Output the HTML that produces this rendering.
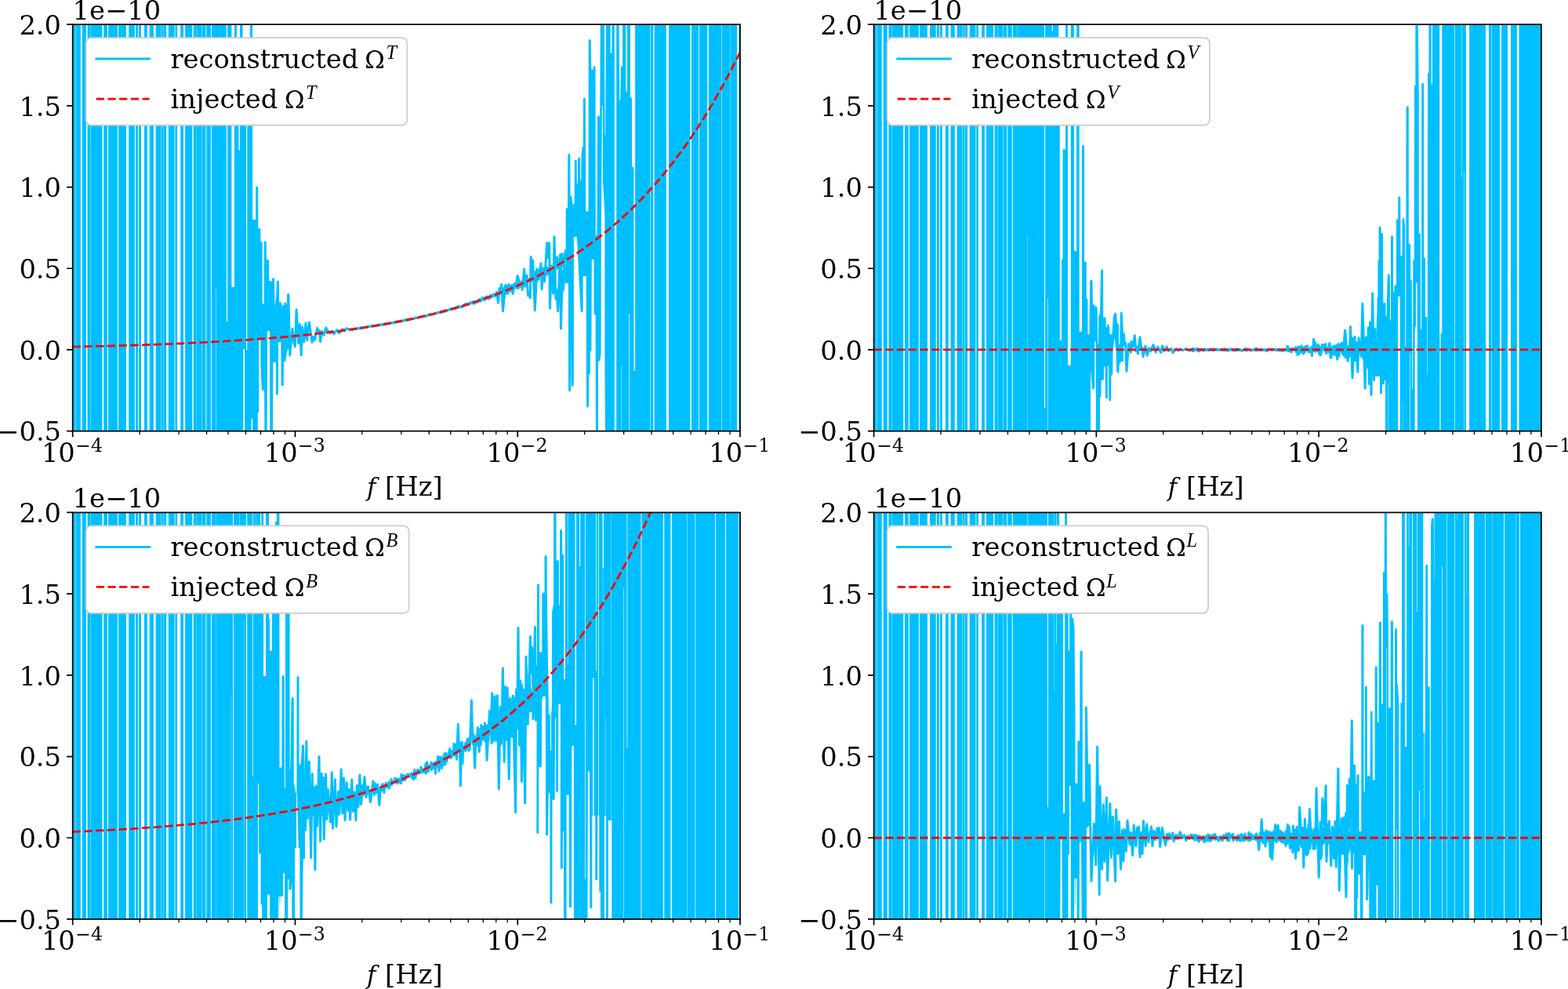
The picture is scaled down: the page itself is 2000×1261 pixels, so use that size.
<!DOCTYPE html>
<html lang="en"><head><meta charset="utf-8"><title>Reconstructed vs injected spectra</title>
<style>html,body{margin:0;padding:0;background:#fff}svg{display:block}.tk{font-family:'DejaVu Serif', 'Liberation Serif', serif;font-size:33.78px;fill:#000}.mi{font-family:'Liberation Serif', 'DejaVu Serif', serif;font-style:italic;fill:#000}.om{font-family:'DejaVu Serif', 'Liberation Serif', serif;font-size:30.8px;fill:#000}.di{font-family:'DejaVu Serif',serif;font-style:italic;fill:#000}</style></head><body>
<svg xmlns="http://www.w3.org/2000/svg" width="2000" height="1261" viewBox="0 0 2000 1261">
<rect width="2000" height="1261" fill="#fff"/>
<defs>
<clipPath id="clipT"><rect x="92.70" y="31.15" width="851.30" height="518.50"/></clipPath>
<clipPath id="clipV"><rect x="1114.60" y="31.15" width="851.30" height="518.50"/></clipPath>
<clipPath id="clipB"><rect x="92.70" y="653.45" width="851.30" height="518.50"/></clipPath>
<clipPath id="clipL"><rect x="1114.60" y="653.45" width="851.30" height="518.50"/></clipPath>
</defs>
<g id="axT">
<g clip-path="url(#clipT)">
<clipPath id="lowT"><path d="M87.70 -8.85L87.70 561.65L275.35 561.65L275.35 369.00L275.75 369.00L275.75 561.65L310.30 561.65L310.30 445.00L312.00 445.00L312.00 561.65L320.60 561.65L320.60 534.00L322.00 534.00L322.00 561.65L328.80 561.65L328.80 526.00L330.30 526.00L330.30 432.00L332.40 432.00L332.40 466.00L333.80 497.20L334.40 498.25L336.20 498.25L336.80 497.20L337.00 493.00L337.50 561.65L340.60 561.65L341.10 422.00L344.00 422.00L344.30 561.65L347.90 561.65L348.40 462.00L351.90 462.00L352.00 502.40L352.60 503.45L354.40 503.45L355.00 502.40L355.10 436.00L358.30 436.00L358.70 491.00L359.30 492.05L361.10 492.05L361.70 491.00L362.00 461.00L364.30 461.00L365.90 449.00L369.40 440.00L369.40 1.15L721.40 1.15L721.40 361.00L724.90 361.00L725.00 490.00L725.10 498.10L725.70 499.15L727.50 499.15L728.10 498.10L728.40 441.00L728.70 491.40L729.30 492.45L731.10 492.45L731.70 491.40L731.90 480.00L731.90 302.00L735.60 302.00L736.40 311.00L738.50 356.00L740.60 396.90L741.20 397.95L743.00 397.95L743.60 396.90L743.70 352.00L747.60 352.00L748.00 512.00L748.00 518.20L748.60 519.25L750.40 519.25L751.00 518.20L751.20 505.60L751.20 477.50L752.90 476.70L752.90 448.00L754.40 447.30L754.80 331.00L757.50 331.00L757.50 401.00L759.60 401.00L759.90 561.65L763.00 561.65L763.00 461.00L765.30 460.00L766.60 451.00L766.80 300.00L767.30 231.00L767.90 135.00L768.80 135.00L768.90 230.00L771.40 275.00L771.40 460.00L772.00 561.65L792.20 561.65L792.20 467.00L792.60 467.00L792.60 561.65L802.40 561.65L802.40 400.00L803.10 400.00L803.10 561.65L949.00 561.65L949.00 -8.85Z"/></clipPath>
<path d="M87.70 589.65L87.70 19.15L96.30 19.15L96.30 579.65L96.70 579.65L96.70 19.15L102.85 19.15L102.85 579.65L104.75 579.65L104.75 19.15L109.88 19.15L109.88 579.65L111.53 579.65L111.53 19.15L115.42 19.15L115.42 579.65L115.77 579.65L115.77 19.15L130.40 19.15L130.40 579.65L132.20 579.65L132.20 19.15L136.95 19.15L136.95 579.65L138.05 579.65L138.05 19.15L150.00 19.15L150.00 579.65L151.00 579.65L151.00 19.15L161.00 19.15L161.00 579.65L164.20 579.65L164.20 19.15L171.90 19.15L171.90 579.65L173.10 579.65L173.10 19.15L176.00 19.15L176.00 579.65L177.00 579.65L177.00 19.15L180.00 19.15L180.00 579.65L184.00 579.65L184.00 19.15L187.90 19.15L187.90 579.65L190.70 579.65L190.70 19.15L195.90 19.15L195.90 579.65L198.70 579.65L198.70 19.15L205.40 19.15L205.40 579.65L205.80 579.65L205.80 19.15L208.40 19.15L208.40 579.65L208.80 579.65L208.80 19.15L212.20 19.15L212.20 579.65L214.80 579.65L214.80 19.15L222.60 19.15L222.60 579.65L223.40 579.65L223.40 19.15L226.10 19.15L226.10 579.65L230.20 579.65L230.20 19.15L234.05 19.15L234.05 579.65L236.15 579.65L236.15 19.15L245.30 19.15L245.30 579.65L246.70 579.65L246.70 19.15L250.38 19.15L250.38 579.65L250.62 579.65L250.62 19.15L257.30 19.15L257.30 579.65L257.70 579.65L257.70 19.15L262.45 19.15L262.45 579.65L263.35 579.65L263.35 19.15L268.90 19.15L268.90 579.65L269.90 579.65L269.90 19.15L288.90 19.15L288.90 410.00L290.10 410.00L290.10 19.15L295.40 19.15L295.40 366.00L298.90 366.00L298.90 19.15L302.00 19.15L302.00 100.00L304.50 100.00L304.50 191.60L306.00 191.60L306.00 19.15L309.60 19.15L309.60 100.00L314.00 100.00L314.00 446.00L315.30 446.00L315.30 100.00L318.90 100.00L318.90 19.15L322.10 19.15L322.10 280.00L326.10 280.00L326.20 238.80L326.80 237.75L328.60 237.75L329.20 238.80L329.40 291.50L329.40 292.00L330.00 290.95L331.70 290.95L332.30 292.00L332.50 308.50L332.50 309.00L333.10 307.95L334.00 307.95L334.60 309.00L334.60 387.00L336.80 387.00L336.80 308.50L337.40 307.45L339.20 307.45L339.80 308.50L340.00 344.80L340.00 331.70L340.60 330.65L342.40 330.65L343.00 331.70L343.40 361.80L343.50 359.00L344.10 357.95L345.90 357.95L346.50 359.00L346.80 362.50L347.00 355.40L347.60 354.35L349.40 354.35L350.00 355.40L350.60 391.20L352.20 377.00L352.90 359.00L353.50 357.95L355.30 357.95L355.90 359.00L356.20 388.00L356.20 386.30L356.80 385.25L358.50 385.25L359.10 386.30L359.50 394.80L359.50 390.40L360.10 389.35L361.90 389.35L362.20 390.40L362.20 391.50L362.20 386.80L362.80 385.75L364.40 385.75L365.00 386.80L365.70 388.50L366.30 375.50L366.90 374.45L368.70 374.45L369.30 375.50L369.40 579.65L721.40 579.65L721.40 266.00L724.00 265.00L724.30 197.40L724.90 196.35L726.70 196.35L727.30 197.40L727.50 250.00L729.40 250.00L730.60 262.00L731.60 260.00L732.70 259.00L732.80 205.10L733.40 204.05L735.20 204.05L735.80 205.10L735.90 234.00L737.00 234.00L737.00 202.20L737.60 201.15L739.40 201.15L740.00 202.20L740.20 230.00L741.20 230.00L741.50 197.00L742.60 187.50L743.80 186.50L743.90 126.10L744.50 125.05L746.30 125.05L746.90 126.10L747.20 269.50L750.50 269.50L750.70 51.40L751.30 50.35L753.10 50.35L753.70 51.40L754.30 89.50L754.30 89.60L754.90 88.55L756.50 88.55L756.80 89.60L756.80 88.00L756.80 85.40L757.40 84.35L758.90 84.35L759.50 85.40L759.80 300.00L761.40 300.00L761.90 148.80L762.50 147.75L764.30 147.75L764.90 148.80L765.20 150.00L765.80 19.15L770.90 19.15L771.60 172.00L772.20 172.00L773.00 19.15L778.70 19.15L778.70 67.60L780.40 67.60L780.40 19.15L783.80 19.15L783.80 579.65L786.20 579.65L786.20 19.15L789.50 19.15L790.30 127.40L791.30 127.40L791.80 85.50L794.00 84.50L794.10 19.15L798.30 19.15L798.30 116.60L799.90 116.60L799.90 19.15L803.90 19.15L803.90 124.50L806.00 124.50L806.00 213.00L808.40 213.00L808.50 473.00L810.10 473.00L810.10 19.15L829.50 19.15L829.50 579.65L830.10 579.65L830.10 19.15L833.20 19.15L833.20 579.65L834.60 579.65L834.60 19.15L849.95 19.15L849.95 579.65L852.95 579.65L852.95 19.15L880.30 19.15L880.30 579.65L881.90 579.65L881.90 19.15L891.05 19.15L891.05 579.65L891.85 579.65L891.85 19.15L902.25 19.15L902.25 579.65L903.75 579.65L903.75 19.15L920.00 19.15L920.00 579.65L920.50 579.65L920.50 19.15L931.35 19.15L931.35 579.65L931.65 579.65L931.65 19.15L940.00 19.15L940.00 579.65L942.40 579.65L942.40 19.15L949.00 19.15L949.00 589.65Z" fill="#00bfff" clip-path="url(#lowT)"/>
<path d="M367.80 375.70 L369.70 453.00 L372.90 418.90 L375.00 438.50 L375.70 437.50 L376.40 441.90 L378.10 394.80 L380.80 437.80 L382.60 413.50 L384.20 453.00 L385.50 417.00 L387.60 435.90 L390.00 411.90 L391.60 433.70 L394.30 411.00 L398.20 436.50 L399.80 429.50 L401.40 433.50 L404.60 418.30 L406.30 423.00 L407.40 421.50 L408.70 435.50 L410.50 422.50 L413.10 427.30 L415.70 418.00 L418.50 422.50 L419.80 422.50 L421.40 424.80 L423.60 422.00 L425.80 425.70 L430.00 420.70 L432.50 424.80 L436.90 419.50 L439.50 422.00 L441.70 418.70 L445.50 420.00 L447.50 419.80 L449.60 420.90 L452.00 418.90 L452.81 419.34 L453.62 419.82 L454.42 419.64 L455.22 418.75 L456.01 418.73 L456.80 418.51 L457.58 418.88 L458.36 418.49 L459.13 418.73 L459.89 417.48 L460.66 418.85 L461.41 418.01 L462.17 418.24 L462.92 417.77 L463.66 417.55 L464.40 417.80 L465.13 417.84 L465.86 417.29 L466.59 417.20 L467.31 417.44 L468.03 416.67 L468.74 416.29 L469.45 416.98 L470.16 416.42 L470.86 415.79 L471.56 416.14 L472.25 416.18 L472.94 415.77 L473.63 415.53 L474.31 416.06 L474.99 416.30 L475.66 415.73 L476.33 415.41 L477.00 415.76 L477.66 415.79 L478.32 415.26 L478.98 415.50 L479.63 415.59 L480.28 414.98 L480.93 414.62 L481.57 414.98 L482.21 414.84 L482.84 415.07 L483.48 414.01 L484.11 414.15 L484.73 413.97 L485.36 413.51 L485.98 414.14 L486.59 414.20 L487.21 413.59 L487.82 414.32 L488.42 413.99 L489.03 413.81 L489.63 413.61 L490.23 413.72 L490.83 412.73 L491.42 413.38 L492.01 413.27 L492.60 412.25 L493.18 412.96 L493.76 412.63 L494.34 412.92 L494.92 412.35 L495.49 412.40 L496.06 412.44 L496.63 411.87 L497.20 412.33 L497.76 411.96 L498.32 412.08 L498.88 411.59 L499.43 412.10 L499.99 411.81 L500.54 411.42 L501.09 411.62 L501.63 411.75 L502.17 411.84 L502.72 410.49 L503.25 411.30 L503.79 411.04 L504.32 410.73 L504.86 410.30 L505.38 411.03 L505.91 410.00 L506.44 410.57 L506.96 410.74 L507.48 409.58 L508.00 409.95 L508.51 409.49 L509.03 409.95 L509.54 410.31 L510.05 410.39 L510.56 408.92 L511.06 409.26 L511.56 409.62 L512.07 409.83 L512.57 409.32 L513.07 408.80 L513.57 409.07 L514.07 408.86 L514.57 408.69 L515.07 408.40 L515.57 408.70 L516.07 408.57 L516.57 408.33 L517.07 408.18 L517.57 407.70 L518.07 407.88 L518.57 408.37 L519.07 407.78 L519.57 407.24 L520.07 408.11 L520.57 407.72 L521.07 408.17 L521.57 407.35 L522.07 407.07 L522.57 406.62 L523.07 407.47 L523.57 407.79 L524.07 406.52 L524.57 406.48 L525.07 406.80 L525.57 406.20 L526.07 406.29 L526.57 406.15 L527.07 406.23 L527.57 406.43 L528.07 405.96 L528.57 406.15 L529.07 405.59 L529.57 405.73 L530.07 404.79 L530.57 404.92 L531.07 405.56 L531.57 404.99 L532.07 405.27 L532.57 405.14 L533.07 405.29 L533.57 405.01 L534.07 404.96 L534.57 404.48 L535.07 404.17 L535.57 404.05 L536.07 404.02 L536.57 403.70 L537.07 403.77 L537.57 403.81 L538.07 403.81 L538.57 403.50 L539.07 402.87 L539.57 403.36 L540.07 403.34 L540.57 403.50 L541.07 403.22 L541.57 402.71 L542.07 402.57 L542.57 403.33 L543.07 402.81 L543.57 403.03 L544.07 403.01 L544.57 401.95 L545.07 402.22 L545.57 402.12 L546.07 402.03 L546.57 401.91 L547.07 401.68 L547.57 401.55 L548.07 400.91 L548.57 401.20 L549.07 400.90 L549.57 401.05 L550.07 400.75 L550.57 400.96 L551.07 400.90 L551.57 400.62 L552.07 400.50 L552.57 400.31 L553.07 400.02 L553.57 399.98 L554.07 399.75 L554.57 399.90 L555.07 399.66 L555.57 399.71 L556.07 399.00 L556.57 399.55 L557.07 398.92 L557.57 398.80 L558.07 398.84 L558.57 398.60 L559.07 398.73 L559.57 398.34 L560.50 398.27 L561.00 398.57 L561.50 398.32 L562.00 398.19 L562.50 398.43 L563.00 397.12 L563.50 397.23 L564.00 396.80 L564.50 397.19 L565.00 397.54 L565.50 396.96 L566.00 397.06 L566.50 395.85 L567.00 396.64 L567.50 396.02 L568.00 397.12 L568.50 396.58 L569.00 396.48 L569.50 395.87 L570.00 396.05 L570.50 395.94 L571.00 395.32 L571.50 395.11 L572.00 395.16 L572.50 394.78 L573.00 394.64 L573.50 394.66 L574.00 394.29 L574.50 394.92 L575.00 393.56 L575.50 394.68 L576.00 393.78 L576.50 393.67 L577.00 393.10 L577.50 393.61 L578.00 393.41 L578.50 393.51 L579.00 392.96 L579.50 393.17 L580.00 394.00 L580.50 393.06 L581.00 392.35 L581.50 393.09 L582.00 392.32 L582.50 392.60 L583.00 392.47 L583.50 391.72 L584.00 390.64 L584.50 391.45 L585.00 391.86 L585.50 391.14 L586.00 391.50 L586.50 391.70 L587.00 390.58 L587.50 391.57 L588.00 391.68 L588.50 391.19 L589.00 391.10 L589.50 390.91 L590.00 391.54 L590.50 390.00 L591.00 389.73 L591.50 389.99 L592.00 388.79 L592.50 388.17 L593.00 388.49 L593.50 389.22 L594.00 389.14 L594.50 387.53 L595.00 387.11 L595.50 388.10 L596.00 388.04 L596.50 387.99 L597.00 388.38 L597.50 388.65 L598.00 387.73 L598.50 387.87 L599.00 386.38 L599.50 386.14 L600.50 385.61 L601.00 385.84 L601.50 386.76 L602.00 385.84 L602.50 386.55 L603.00 386.63 L603.50 384.57 L604.00 386.49 L604.50 384.95 L605.00 387.11 L605.50 385.77 L606.00 384.50 L606.50 384.98 L607.00 384.83 L607.50 384.77 L608.00 385.57 L608.50 384.63 L609.00 385.50 L609.50 384.39 L610.00 383.47 L610.50 382.04 L611.00 381.82 L611.50 383.32 L612.00 383.62 L612.50 384.18 L613.00 382.02 L613.50 382.52 L614.00 381.47 L614.50 381.68 L615.00 379.64 L615.50 382.50 L616.00 380.84 L616.50 381.33 L617.00 381.69 L617.50 381.41 L618.00 379.50 L618.50 382.31 L619.00 381.34 L619.50 380.89 L620.00 379.46 L620.50 378.24 L621.00 378.02 L621.50 379.41 L622.00 379.64 L622.50 378.49 L623.00 381.17 L623.50 379.26 L624.00 379.88 L624.50 379.60 L625.00 377.12 L625.50 379.36 L626.00 378.54 L626.50 376.30 L627.00 378.51 L627.50 378.75 L628.00 378.46 L628.50 378.38 L629.00 375.14 L629.50 376.39 L630.00 375.83 L630.50 376.40 L631.00 376.28 L631.50 377.40 L633.50 372.50 L635.40 386.10 L637.20 367.50 L638.30 372.50 L639.60 362.70 L641.50 396.70 L644.60 363.70 L646.70 368.00 L648.80 362.60 L650.30 371.00 L652.40 363.70 L654.20 374.60 L656.50 361.60 L658.20 364.50 L660.10 351.80 L663.00 361.50 L664.60 359.50 L666.30 369.40 L668.70 343.00 L669.90 365.30 L672.00 351.30 L673.50 377.20 L675.00 372.50 L676.30 379.70 L677.10 327.60 L678.30 350.50 L679.60 332.00 L682.30 395.70 L684.80 343.00 L687.00 356.50 L690.00 335.80 L691.00 368.90 L693.10 342.00 L694.60 359.10 L697.70 309.50 L699.30 328.50 L700.60 310.10 L701.50 393.10 L703.10 338.90 L705.60 374.10 L707.00 301.80 L708.90 381.30 L710.00 369.50 L711.60 396.70 L714.40 325.00 L715.50 419.00 L717.30 345.10 L718.40 369.90 L720.20 344.10 L722.50 359.60 L724.00 301.50" stroke="#00bfff" stroke-width="3.0" stroke-linejoin="round" stroke-linecap="round" fill="none"/>
<path d="M641.50 373.11 L642.00 370.36 L642.50 369.23 L643.00 366.90 L643.50 370.70 L644.00 373.04 L644.50 370.90 L645.00 371.48 L645.50 372.12 L646.00 368.78 L646.50 374.45 L647.00 368.35 L647.50 370.26 L648.00 374.11 L648.50 369.01 L649.00 369.20 L649.50 367.89 L650.00 369.18 L650.50 364.55 L651.00 366.99 L651.50 371.06 L652.00 368.13 L652.50 367.08 L653.00 368.02 L653.50 367.89 L654.00 367.18 L654.50 367.80 L655.00 363.21 L655.50 367.42 L656.00 364.69 L656.50 367.40 L657.00 365.55 L657.50 363.33 L658.00 365.01 L658.50 362.84 L659.00 366.86 L659.50 364.44 L660.00 366.12 L660.50 361.64 L661.00 367.39 L661.50 362.95 L662.00 366.45 L662.50 365.10 L663.00 360.44 L663.50 363.47 L664.00 361.24 L664.50 363.23 L665.00 365.44 L665.50 363.46 L666.00 364.17 L666.50 358.51 L667.00 361.63 L667.50 361.79 L668.00 363.40 L668.50 358.87 L669.00 361.66 L669.50 361.08 L670.00 355.77 L670.50 356.78 L671.00 360.46 L671.50 355.89 L672.00 355.49 L672.50 361.01 L673.00 359.12 L673.50 357.44 L674.00 358.15 L674.50 356.47 L675.00 355.84 L675.50 355.81 L676.00 358.03 L676.50 360.55 L677.00 355.02 L677.50 355.97 L678.00 355.27 L678.50 351.83 L679.00 356.22 L679.50 357.90 L680.00 352.30 L680.50 357.35 L681.00 352.62 L681.50 357.94 L682.00 357.94 L682.50 352.45 L683.00 346.79 L683.50 352.04 L684.00 348.23 L684.50 348.20 L685.00 351.58 L685.50 356.96 L686.00 351.62 L686.50 350.91 L687.00 344.78 L687.50 348.98 L688.00 345.81 L688.50 352.60 L689.00 348.44 L689.50 349.99 L690.00 349.83 L690.50 348.91 L691.00 353.07 L691.50 351.02 L692.00 347.58 L692.50 349.20 L693.00 350.55 L693.50 353.64 L694.00 348.33 L694.50 353.53 L695.00 344.77 L695.50 346.00 L696.00 340.38 L696.50 350.00 L697.00 341.69 L697.50 341.38 L698.00 349.38 L698.50 342.99 L699.00 341.70 L699.50 349.18 L700.00 343.71 L700.50 348.56 L701.00 342.11 L701.50 347.17 L702.00 348.61 L702.50 343.57 L703.00 351.67 L703.50 340.67 L704.00 341.28 L704.50 342.45 L705.00 346.87 L705.50 340.02 L706.00 338.96 L706.50 342.25 L707.00 347.22 L707.50 338.14 L708.00 333.22 L708.50 339.07 L709.00 342.91 L709.50 336.21 L710.00 339.61 L710.50 328.12 L711.00 338.46 L711.50 338.64 L712.00 341.36 L712.50 339.27 L713.00 341.72 L713.50 330.95 L714.00 340.55 L714.50 326.26 L715.00 332.33 L715.50 342.53 L716.00 340.70 L716.50 323.40 L717.00 338.53 L717.50 331.72 L718.00 329.14 L718.50 335.22 L719.00 334.43 L719.50 342.58 L720.00 323.25 L720.50 329.75 L721.00 331.38 L721.50 319.29" stroke="#00bfff" stroke-width="3.0" stroke-linejoin="round" stroke-linecap="round" fill="none"/>
<path d="M92.70 442.15 L96.98 442.07 L101.26 441.97 L105.53 441.88 L109.81 441.79 L114.09 441.69 L118.37 441.59 L122.65 441.49 L126.92 441.38 L131.20 441.28 L135.48 441.17 L139.76 441.05 L144.03 440.94 L148.31 440.82 L152.59 440.70 L156.87 440.58 L161.15 440.45 L165.42 440.33 L169.70 440.19 L173.98 440.06 L178.26 439.92 L182.54 439.78 L186.81 439.64 L191.09 439.49 L195.37 439.34 L199.65 439.18 L203.93 439.02 L208.20 438.86 L212.48 438.69 L216.76 438.52 L221.04 438.35 L225.31 438.17 L229.59 437.99 L233.87 437.80 L238.15 437.61 L242.43 437.42 L246.70 437.22 L250.98 437.01 L255.26 436.81 L259.54 436.59 L263.82 436.37 L268.09 436.15 L272.37 435.92 L276.65 435.68 L280.93 435.44 L285.21 435.20 L289.48 434.95 L293.76 434.69 L298.04 434.42 L302.32 434.15 L306.59 433.88 L310.87 433.60 L315.15 433.31 L319.43 433.01 L323.71 432.71 L327.98 432.40 L332.26 432.08 L336.54 431.76 L340.82 431.42 L345.10 431.08 L349.37 430.73 L353.65 430.38 L357.93 430.01 L362.21 429.64 L366.48 429.26 L370.76 428.87 L375.04 428.47 L379.32 428.06 L383.60 427.64 L387.87 427.21 L392.15 426.77 L396.43 426.32 L400.71 425.86 L404.99 425.39 L409.26 424.91 L413.54 424.42 L417.82 423.92 L422.10 423.40 L426.38 422.87 L430.65 422.33 L434.93 421.78 L439.21 421.21 L443.49 420.63 L447.76 420.04 L452.04 419.44 L456.32 418.81 L460.60 418.18 L464.88 417.53 L469.15 416.86 L473.43 416.18 L477.71 415.49 L481.99 414.77 L486.27 414.04 L490.54 413.30 L494.82 412.53 L499.10 411.75 L503.38 410.95 L507.66 410.13 L511.93 409.29 L516.21 408.43 L520.49 407.55 L524.77 406.66 L529.04 405.74 L533.32 404.79 L537.60 403.83 L541.88 402.84 L546.16 401.83 L550.43 400.80 L554.71 399.75 L558.99 398.66 L563.27 397.56 L567.55 396.42 L571.82 395.26 L576.10 394.08 L580.38 392.86 L584.66 391.62 L588.94 390.35 L593.21 389.05 L597.49 387.71 L601.77 386.35 L606.05 384.96 L610.32 383.53 L614.60 382.07 L618.88 380.57 L623.16 379.04 L627.44 377.47 L631.71 375.87 L635.99 374.23 L640.27 372.55 L644.55 370.83 L648.83 369.07 L653.10 367.27 L657.38 365.43 L661.66 363.55 L665.94 361.62 L670.22 359.64 L674.49 357.62 L678.77 355.56 L683.05 353.44 L687.33 351.27 L691.60 349.06 L695.88 346.79 L700.16 344.47 L704.44 342.09 L708.72 339.66 L712.99 337.17 L717.27 334.62 L721.55 332.02 L725.83 329.35 L730.11 326.62 L734.38 323.83 L738.66 320.97 L742.94 318.04 L747.22 315.05 L751.49 311.98 L755.77 308.85 L760.05 305.64 L764.33 302.35 L768.61 298.99 L772.88 295.55 L777.16 292.03 L781.44 288.42 L785.72 284.74 L790.00 280.96 L794.27 277.10 L798.55 273.15 L802.83 269.10 L807.11 264.96 L811.39 260.72 L815.66 256.39 L819.94 251.95 L824.22 247.41 L828.50 242.76 L832.77 238.00 L837.05 233.13 L841.33 228.15 L845.61 223.05 L849.89 217.83 L854.16 212.49 L858.44 207.03 L862.72 201.44 L867.00 195.71 L871.28 189.85 L875.55 183.86 L879.83 177.72 L884.11 171.44 L888.39 165.01 L892.67 158.44 L896.94 151.71 L901.22 144.82 L905.50 137.77 L909.78 130.55 L914.05 123.17 L918.33 115.61 L922.61 107.88 L926.89 99.96 L931.17 91.86 L935.44 83.57 L939.72 75.09 L944.00 66.41" stroke="#ff0000" stroke-width="2.78" stroke-dasharray="10.28 4.44" fill="none"/>
</g>
<path d="M85.10 31.15H92.70M85.10 134.85H92.70M85.10 238.55H92.70M85.10 342.25H92.70M85.10 445.95H92.70M85.10 549.65H92.70M92.70 549.65V557.25M376.47 549.65V557.25M660.23 549.65V557.25M944.00 549.65V557.25" stroke="#000" stroke-width="1.7" fill="none"/>
<path d="M178.12 549.65V553.95M228.09 549.65V553.95M263.54 549.65V553.95M291.04 549.65V553.95M313.51 549.65V553.95M332.51 549.65V553.95M348.97 549.65V553.95M363.48 549.65V553.95M461.89 549.65V553.95M511.86 549.65V553.95M547.31 549.65V553.95M574.81 549.65V553.95M597.28 549.65V553.95M616.28 549.65V553.95M632.73 549.65V553.95M647.25 549.65V553.95M745.66 549.65V553.95M795.62 549.65V553.95M831.08 549.65V553.95M858.58 549.65V553.95M881.05 549.65V553.95M900.04 549.65V553.95M916.50 549.65V553.95M931.02 549.65V553.95" stroke="#000" stroke-width="1.3" fill="none"/>
<rect x="92.70" y="31.15" width="851.30" height="518.50" fill="none" stroke="#000" stroke-width="1.7"/>
<text x="78.10" y="43.95" text-anchor="end" class="tk">2.0</text>
<text x="78.10" y="147.65" text-anchor="end" class="tk">1.5</text>
<text x="78.10" y="251.35" text-anchor="end" class="tk">1.0</text>
<text x="78.10" y="355.05" text-anchor="end" class="tk">0.5</text>
<text x="78.10" y="458.75" text-anchor="end" class="tk">0.0</text>
<text x="78.10" y="562.45" text-anchor="end" class="tk">−0.5</text>
<text x="52.90" y="588.95" class="tk">10<tspan dy="-12.6" dx="0.4" font-size="23.65">−4</tspan></text>
<text x="336.67" y="588.95" class="tk">10<tspan dy="-12.6" dx="0.4" font-size="23.65">−3</tspan></text>
<text x="620.43" y="588.95" class="tk">10<tspan dy="-12.6" dx="0.4" font-size="23.65">−2</tspan></text>
<text x="904.20" y="588.95" class="tk">10<tspan dy="-12.6" dx="0.4" font-size="23.65">−1</tspan></text>
<text x="92.50" y="24.75" class="tk">1e−10</text>
<text x="467.90" y="631.85" class="di" font-size="31">f</text>
<text x="491.10" y="631.85" class="tk">[Hz]</text>
<rect x="109.60" y="48.15" width="409.70" height="111.40" rx="6.8" ry="6.8" fill="#fff" stroke="#ccc" stroke-width="1.7"/>
<path d="M122.90 75.10h67.5" stroke="#00bfff" stroke-width="3.0" stroke-linecap="square" fill="none"/>
<path d="M122.70 126.10h67.8" stroke="#ff0000" stroke-width="2.78" stroke-dasharray="10.28 4.44" fill="none"/>
<text x="217.40" y="86.60" class="tk">reconstructed</text>
<text x="465.30" y="86.60" class="om">Ω</text>
<text x="492.40" y="75.10" class="mi" font-size="24.3">T</text>
<text x="217.40" y="137.70" class="tk">injected</text>
<text x="363.00" y="137.70" class="om">Ω</text>
<text x="390.10" y="126.20" class="mi" font-size="24.3">T</text>
</g>
<g id="axV">
<g clip-path="url(#clipV)">
<clipPath id="lowV"><path d="M1109.60 -8.85L1109.60 561.65L1310.50 561.65L1310.50 300.00L1310.80 300.00L1310.80 561.65L1336.30 561.65L1336.30 380.00L1336.80 380.00L1336.80 561.65L1391.10 561.65L1391.10 470.70L1393.00 494.00L1393.00 495.10L1393.60 496.15L1395.30 496.15L1395.90 495.10L1396.20 494.00L1396.30 435.60L1397.80 435.60L1397.90 561.65L1403.00 561.65L1403.00 506.80L1404.50 505.70L1404.60 489.00L1404.90 483.80L1405.50 484.85L1407.30 484.85L1407.90 483.80L1408.20 467.60L1409.70 467.60L1409.90 507.00L1410.50 508.05L1412.30 508.05L1412.90 507.00L1412.90 466.50L1413.90 466.50L1414.20 510.10L1414.80 511.15L1416.60 511.15L1417.20 510.10L1417.40 479.00L1419.30 477.00L1419.50 449.00L1421.30 432.00L1421.80 432.00L1423.60 449.00L1424.10 472.00L1424.50 474.50L1425.10 475.55L1426.90 475.55L1427.50 474.50L1427.80 464.00L1430.00 461.50L1430.40 460.10L1431.00 461.15L1432.80 461.15L1433.00 460.10L1433.00 450.00L1433.00 1.15L1756.30 1.15L1756.30 480.00L1759.80 480.00L1760.10 501.20L1760.70 502.25L1762.50 502.25L1763.10 501.20L1763.20 488.00L1763.20 489.30L1763.80 490.35L1765.30 490.35L1765.90 489.30L1766.00 485.00L1767.00 485.00L1767.00 561.65L1770.20 561.65L1770.20 489.00L1770.60 489.00L1770.60 561.65L1783.10 561.65L1783.10 378.00L1785.70 378.00L1785.70 561.65L1789.40 561.65L1789.40 513.00L1789.60 513.00L1789.60 561.65L1798.20 561.65L1798.20 450.00L1798.80 450.00L1798.80 561.65L1804.70 561.65L1804.70 420.00L1806.00 415.00L1806.00 361.00L1807.70 361.00L1807.90 561.65L1836.40 561.65L1836.40 420.00L1837.60 420.00L1837.60 561.65L1867.30 561.65L1867.30 218.80L1867.80 218.80L1867.80 561.65L1970.90 561.65L1970.90 -8.85Z"/></clipPath>
<path d="M1109.60 589.65L1109.60 19.15L1118.20 19.15L1118.20 579.65L1118.60 579.65L1118.60 19.15L1124.75 19.15L1124.75 579.65L1126.65 579.65L1126.65 19.15L1131.77 19.15L1131.77 579.65L1133.42 579.65L1133.42 19.15L1137.33 19.15L1137.33 579.65L1137.67 579.65L1137.67 19.15L1152.30 19.15L1152.30 579.65L1154.10 579.65L1154.10 19.15L1158.85 19.15L1158.85 579.65L1159.95 579.65L1159.95 19.15L1171.90 19.15L1171.90 579.65L1172.90 579.65L1172.90 19.15L1182.90 19.15L1182.90 579.65L1186.10 579.65L1186.10 19.15L1193.80 19.15L1193.80 579.65L1195.00 579.65L1195.00 19.15L1197.90 19.15L1197.90 579.65L1198.90 579.65L1198.90 19.15L1201.90 19.15L1201.90 579.65L1205.90 579.65L1205.90 19.15L1209.80 19.15L1209.80 579.65L1212.60 579.65L1212.60 19.15L1217.80 19.15L1217.80 579.65L1220.60 579.65L1220.60 19.15L1227.30 19.15L1227.30 579.65L1227.70 579.65L1227.70 19.15L1230.30 19.15L1230.30 579.65L1230.70 579.65L1230.70 19.15L1234.10 19.15L1234.10 579.65L1236.70 579.65L1236.70 19.15L1244.50 19.15L1244.50 579.65L1245.30 579.65L1245.30 19.15L1248.00 19.15L1248.00 579.65L1252.10 579.65L1252.10 19.15L1255.95 19.15L1255.95 579.65L1258.05 579.65L1258.05 19.15L1267.20 19.15L1267.20 579.65L1268.60 579.65L1268.60 19.15L1272.28 19.15L1272.28 579.65L1272.53 579.65L1272.53 19.15L1279.20 19.15L1279.20 579.65L1279.60 579.65L1279.60 19.15L1284.35 19.15L1284.35 579.65L1285.25 579.65L1285.25 19.15L1290.80 19.15L1290.80 579.65L1291.80 579.65L1291.80 19.15L1297.30 19.15L1297.30 100.00L1297.60 100.00L1297.60 19.15L1332.10 19.15L1332.10 520.00L1333.10 520.00L1333.10 19.15L1341.90 19.15L1341.90 39.80L1343.00 39.80L1343.00 19.15L1350.30 19.15L1350.30 120.00L1351.80 120.00L1351.80 434.00L1353.90 434.00L1354.00 330.40L1355.60 330.40L1355.60 194.00L1355.60 191.30L1356.20 190.25L1358.00 190.25L1358.60 191.30L1359.00 191.00L1359.10 19.15L1362.10 19.15L1362.10 466.00L1365.80 466.00L1365.80 19.15L1370.00 19.15L1370.00 320.00L1373.10 320.00L1373.10 19.15L1376.70 19.15L1376.70 422.70L1380.00 422.70L1380.00 19.15L1380.20 19.15L1380.20 187.00L1380.20 186.20L1380.80 185.15L1382.50 185.15L1383.10 186.20L1383.10 333.50L1385.80 334.00L1385.80 381.00L1387.50 381.50L1387.50 426.30L1389.40 426.30L1390.20 360.00L1390.50 357.90L1391.10 356.85L1392.90 356.85L1393.50 357.90L1394.00 389.50L1394.00 389.40L1394.60 388.35L1396.20 388.35L1396.70 389.40L1396.70 391.50L1396.70 392.00L1397.30 390.95L1399.00 390.95L1399.60 392.00L1399.90 398.00L1400.10 438.00L1400.80 438.00L1401.20 404.50L1403.00 398.50L1404.10 344.50L1404.70 343.45L1406.50 343.45L1407.10 344.50L1407.30 405.00L1407.40 405.40L1408.00 404.35L1409.80 404.35L1410.40 405.40L1410.60 407.00L1410.70 417.00L1412.00 417.00L1412.00 414.70L1412.60 413.65L1414.20 413.65L1414.80 414.70L1415.20 417.00L1415.40 426.30L1418.50 426.30L1419.80 404.00L1421.10 399.70L1421.70 398.65L1423.50 398.65L1424.10 399.70L1424.90 410.80L1427.10 415.00L1427.20 438.70L1428.30 438.70L1428.80 400.00L1428.80 398.90L1429.40 397.85L1431.20 397.85L1431.80 398.90L1432.00 404.00L1433.00 424.00L1433.00 579.65L1756.30 579.65L1756.30 381.00L1757.30 380.00L1757.50 332.30L1758.60 332.00L1758.60 292.00L1758.60 289.70L1759.20 288.65L1760.90 288.65L1761.50 289.70L1761.80 297.20L1764.00 297.50L1764.40 386.50L1764.50 386.70L1765.10 385.65L1766.90 385.65L1767.50 386.70L1767.60 403.40L1768.80 403.40L1768.90 382.80L1769.80 352.00L1769.80 350.60L1770.40 349.55L1772.00 349.55L1772.60 350.60L1773.00 353.00L1773.00 408.60L1774.00 408.60L1774.00 303.00L1774.00 301.60L1774.60 300.55L1776.40 300.55L1777.00 301.60L1777.10 303.00L1777.10 372.50L1778.30 372.50L1778.40 366.00L1778.40 364.50L1779.00 363.45L1780.50 363.45L1780.90 364.50L1780.90 364.00L1780.90 281.00L1781.30 279.60L1783.20 279.60L1783.30 252.00L1783.30 251.50L1783.90 250.45L1785.60 250.45L1786.20 251.50L1786.30 253.00L1786.50 326.10L1788.50 326.10L1788.60 280.00L1788.60 279.30L1789.20 278.25L1790.80 278.25L1791.40 279.30L1791.40 281.00L1792.30 290.00L1792.40 442.00L1793.20 442.00L1793.60 137.00L1793.70 136.50L1794.30 135.45L1796.10 135.45L1796.70 136.50L1796.80 138.00L1796.80 310.60L1799.10 311.00L1799.20 357.00L1800.70 357.50L1801.30 496.00L1802.00 496.00L1802.30 331.20L1803.80 331.00L1804.00 109.00L1805.40 108.90L1805.40 19.15L1808.80 19.15L1809.10 60.00L1809.80 120.00L1809.80 297.70L1811.90 298.00L1812.20 420.00L1813.10 420.00L1813.20 107.50L1813.20 107.10L1813.80 106.05L1815.50 106.05L1816.10 107.10L1816.20 107.50L1816.30 328.70L1818.00 329.00L1818.00 403.90L1820.30 404.00L1820.40 477.70L1820.80 477.70L1821.00 93.00L1822.50 92.90L1822.50 19.15L1825.70 19.15L1825.70 107.80L1826.90 107.80L1826.90 19.15L1836.20 19.15L1836.20 425.00L1839.30 425.00L1839.30 19.15L1855.20 19.15L1855.20 579.65L1855.80 579.65L1855.80 19.15L1864.50 19.15L1864.50 227.50L1864.90 227.50L1864.90 19.15L1870.00 19.15L1870.00 579.65L1874.10 579.65L1874.10 19.15L1895.10 19.15L1895.10 579.65L1899.00 579.65L1899.00 19.15L1902.10 19.15L1902.10 579.65L1902.60 579.65L1902.60 19.15L1913.00 19.15L1913.00 579.65L1915.10 579.65L1915.10 19.15L1923.00 19.15L1923.00 579.65L1927.00 579.65L1927.00 19.15L1934.90 19.15L1934.90 579.65L1937.50 579.65L1937.50 19.15L1970.90 19.15L1970.90 589.65Z" fill="#00bfff" clip-path="url(#lowV)"/>
<path d="M1431.00 431.50 L1433.40 425.80 L1434.60 440.50 L1435.60 437.50 L1437.00 473.30 L1439.50 438.50 L1442.20 449.10 L1442.90 435.60 L1445.00 442.50 L1447.30 427.80 L1449.00 447.50 L1450.20 442.50 L1451.40 451.10 L1454.00 429.90 L1456.00 446.00 L1457.00 443.50 L1458.10 454.70 L1461.00 441.20 L1463.30 453.20 L1465.40 443.80 L1467.40 448.00 L1471.00 439.70 L1474.10 449.10 L1476.70 442.30 L1480.80 449.60 L1482.50 441.00 L1485.00 447.80 L1488.20 442.10 L1490.10 447.50 L1494.20 444.50 L1495.80 449.60 L1500.40 444.70 L1503.00 447.10 L1505.60 444.70 L1508.70 446.70 L1512.80 444.50 L1517.10 447.30 L1520.00 445.10 L1520.56 446.31 L1521.12 447.44 L1521.67 444.20 L1522.22 447.59 L1522.77 445.90 L1523.32 445.18 L1523.86 445.19 L1524.40 444.93 L1524.94 445.74 L1525.48 446.73 L1526.01 446.49 L1526.55 446.54 L1527.08 444.40 L1527.60 444.52 L1528.13 447.35 L1528.65 446.82 L1529.17 447.89 L1529.69 447.02 L1530.21 445.05 L1530.72 447.07 L1531.24 446.49 L1531.75 446.13 L1532.26 445.25 L1532.76 445.95 L1533.27 445.83 L1533.77 446.70 L1534.27 446.05 L1534.77 447.26 L1535.27 445.31 L1535.77 446.34 L1536.27 446.36 L1536.77 445.25 L1537.27 445.00 L1537.77 446.76 L1538.27 446.36 L1538.77 445.82 L1539.27 446.26 L1539.77 445.43 L1540.27 446.13 L1540.77 445.49 L1541.27 446.09 L1541.77 446.70 L1542.27 445.69 L1542.77 446.59 L1543.27 445.18 L1543.77 445.74 L1544.27 444.95 L1544.77 445.88 L1545.27 446.01 L1545.77 445.81 L1546.27 445.76 L1546.77 446.90 L1547.27 446.96 L1547.77 445.10 L1548.27 446.77 L1548.77 444.76 L1549.27 445.44 L1549.77 445.83 L1550.27 446.03 L1550.77 445.24 L1551.27 445.47 L1551.77 446.00 L1552.27 445.49 L1552.77 445.53 L1553.27 446.39 L1553.77 446.56 L1554.27 445.91 L1554.77 445.96 L1555.27 445.94 L1555.77 445.66 L1556.27 445.63 L1556.77 445.30 L1557.27 446.35 L1557.77 445.90 L1558.27 445.87 L1558.77 446.07 L1559.27 446.27 L1559.77 446.81 L1560.50 445.11 L1561.00 445.23 L1561.50 445.17 L1562.00 445.57 L1562.50 446.82 L1563.00 444.98 L1563.50 446.52 L1564.00 446.71 L1564.50 445.73 L1565.00 445.53 L1565.50 446.24 L1566.00 446.69 L1566.50 447.26 L1567.00 446.49 L1567.50 446.92 L1568.00 445.68 L1568.50 445.42 L1569.00 444.90 L1569.50 445.24 L1570.00 445.73 L1570.50 446.07 L1571.00 445.15 L1571.50 446.45 L1572.00 445.89 L1572.50 445.56 L1573.00 445.48 L1573.50 447.19 L1574.00 446.05 L1574.50 445.40 L1575.00 445.36 L1575.50 447.09 L1576.00 445.59 L1576.50 446.69 L1577.00 446.83 L1577.50 444.51 L1578.00 446.79 L1578.50 445.82 L1579.00 445.28 L1579.50 445.61 L1580.00 446.30 L1580.50 446.18 L1581.00 446.22 L1581.50 445.50 L1582.00 446.75 L1582.50 446.89 L1583.00 447.10 L1583.50 446.58 L1584.00 447.14 L1584.50 447.27 L1585.00 446.39 L1585.50 446.51 L1586.00 446.32 L1586.50 446.30 L1587.00 446.50 L1587.50 444.87 L1588.00 445.74 L1588.50 446.26 L1589.00 444.61 L1589.50 445.03 L1590.00 446.96 L1590.50 445.28 L1591.00 445.65 L1591.50 446.19 L1592.00 445.65 L1592.50 445.40 L1593.00 445.62 L1593.50 445.68 L1594.00 445.58 L1594.50 446.07 L1595.00 446.98 L1595.50 446.18 L1596.00 446.99 L1596.50 446.43 L1597.00 446.49 L1597.50 446.33 L1598.00 445.76 L1598.50 446.22 L1599.00 446.15 L1599.50 445.23 L1600.00 446.43 L1600.50 446.32 L1601.00 446.19 L1601.50 445.59 L1602.00 444.24 L1602.50 446.91 L1603.00 445.90 L1603.50 444.53 L1604.00 446.37 L1604.50 445.49 L1605.00 446.40 L1605.50 445.88 L1606.00 446.69 L1606.50 446.10 L1607.00 446.13 L1607.50 446.05 L1608.00 446.76 L1608.50 445.10 L1609.00 446.73 L1609.50 446.40 L1610.00 445.58 L1610.50 445.95 L1611.00 445.65 L1611.50 445.99 L1612.00 446.57 L1612.50 445.50 L1613.00 446.44 L1613.50 446.58 L1614.00 446.37 L1614.50 446.99 L1615.00 445.90 L1615.50 446.41 L1616.00 447.61 L1616.50 445.97 L1617.00 445.86 L1617.50 445.95 L1618.00 446.34 L1618.50 445.53 L1619.00 445.79 L1619.50 444.77 L1620.00 445.24 L1620.50 445.26 L1621.00 445.17 L1621.50 445.65 L1622.00 446.42 L1622.50 445.69 L1623.00 445.05 L1623.50 446.11 L1624.00 446.07 L1624.50 445.00 L1625.00 446.05 L1625.50 445.22 L1626.00 445.52 L1626.50 445.45 L1627.00 446.51 L1627.50 445.39 L1628.00 445.73 L1628.50 446.07 L1629.00 446.66 L1629.50 446.76 L1630.00 445.25 L1630.50 446.76 L1631.00 446.15 L1631.50 446.77 L1632.00 446.68 L1632.50 445.58 L1633.00 445.98 L1633.50 445.75 L1634.00 446.21 L1634.50 447.10 L1635.00 445.99 L1635.50 445.49 L1636.00 447.71 L1636.50 445.26 L1637.00 445.95 L1637.50 445.94 L1638.00 445.06 L1638.50 446.50 L1639.00 446.69 L1639.50 445.89 L1640.50 446.96 L1641.00 446.35 L1641.50 445.84 L1642.00 441.62 L1642.50 446.76 L1643.00 441.90 L1643.50 447.70 L1644.00 447.13 L1644.50 447.57 L1645.00 447.59 L1645.50 446.55 L1646.00 444.87 L1646.50 445.33 L1647.00 449.04 L1647.50 444.74 L1648.00 445.47 L1648.50 444.42 L1649.00 444.85 L1649.50 445.29 L1650.00 446.51 L1650.50 445.31 L1651.00 445.17 L1651.50 444.57 L1652.00 446.15 L1652.50 442.90 L1653.00 446.07 L1653.50 448.98 L1654.00 444.16 L1654.50 445.84 L1655.00 452.65 L1655.50 443.57 L1656.00 442.02 L1656.50 444.91 L1657.00 450.41 L1657.50 451.02 L1658.00 442.89 L1658.50 447.40 L1659.00 445.96 L1659.50 444.43 L1660.00 440.87 L1660.50 448.65 L1661.00 443.66 L1661.50 446.75 L1662.00 446.17 L1662.50 451.07 L1663.00 449.20 L1663.50 442.73 L1664.00 445.21 L1664.50 448.89 L1665.00 442.13 L1665.50 444.81 L1666.00 446.61 L1666.50 441.19 L1667.00 442.27 L1667.50 440.83 L1668.00 446.82 L1668.50 444.23 L1669.00 448.82 L1669.50 446.30 L1670.00 447.75 L1670.50 445.68 L1671.00 448.36 L1671.50 445.62 L1672.00 442.74 L1672.50 449.85 L1673.00 449.21 L1673.50 453.56 L1674.00 445.47 L1674.50 443.97 L1675.00 440.95 L1675.50 432.50 L1676.00 441.35 L1676.50 447.68 L1677.00 442.78 L1677.50 436.56 L1678.00 448.17 L1678.50 443.77 L1679.00 444.61 L1679.50 444.33 L1680.00 445.44 L1680.50 447.77 L1681.00 439.25 L1681.50 445.06 L1682.00 443.95 L1682.50 450.46 L1683.00 441.80 L1683.50 452.57 L1684.00 448.43 L1684.50 452.65 L1685.00 443.02 L1685.50 449.33 L1686.00 447.49 L1686.50 439.54 L1687.00 444.82 L1687.50 443.98 L1688.00 441.70 L1688.50 442.54 L1689.00 439.50 L1689.50 443.84 L1690.00 447.48 L1690.50 442.36 L1691.00 438.68 L1691.50 450.86 L1692.00 444.19 L1692.50 446.08 L1693.00 444.82 L1693.50 443.32 L1694.00 448.91 L1694.50 443.32 L1695.00 446.09 L1695.50 438.64 L1696.00 437.58 L1696.50 443.94 L1697.00 455.89 L1697.50 446.90 L1698.00 456.20 L1698.50 448.37 L1699.00 448.40 L1699.50 442.77 L1700.30 441.50 L1702.00 452.50 L1703.60 442.00 L1705.70 458.20 L1706.70 438.50 L1708.80 442.00 L1710.80 438.00 L1713.40 446.30 L1715.70 421.00 L1719.10 460.30 L1721.00 442.50 L1721.60 444.50 L1722.50 416.20 L1725.10 481.90 L1727.00 432.30 L1728.40 459.70 L1729.90 440.60 L1731.80 474.20 L1733.00 430.80 L1736.30 454.60 L1737.90 386.90 L1741.20 495.30 L1742.50 430.00 L1744.00 468.50 L1745.40 417.80 L1746.40 489.60 L1747.60 411.10 L1749.00 503.60 L1750.70 374.00 L1752.60 484.50 L1754.00 442.50 L1755.70 478.30 L1757.60 401.50" stroke="#00bfff" stroke-width="3.0" stroke-linejoin="round" stroke-linecap="round" fill="none"/>
<path d="M1701.00 451.40 L1701.50 447.34 L1702.00 441.18 L1702.50 445.18 L1703.00 444.54 L1703.50 444.99 L1704.00 448.48 L1704.50 440.49 L1705.00 450.11 L1705.50 441.06 L1706.00 445.13 L1706.50 449.86 L1707.00 448.90 L1707.50 442.85 L1708.00 453.94 L1708.50 447.61 L1709.00 441.57 L1709.50 446.15 L1710.00 442.07 L1710.50 447.99 L1711.00 439.59 L1711.50 448.25 L1712.00 437.42 L1712.50 451.28 L1713.00 447.28 L1713.50 452.65 L1714.00 442.41 L1714.50 435.44 L1715.00 439.02 L1715.50 444.71 L1716.00 456.05 L1716.50 448.91 L1717.00 452.81 L1717.50 441.32 L1718.00 443.13 L1718.50 444.17 L1719.00 452.26 L1719.50 442.88 L1720.00 444.35 L1720.50 454.92 L1721.00 441.08 L1721.50 445.77 L1722.00 438.33 L1722.50 444.60 L1723.00 450.73 L1723.50 452.88 L1724.00 437.80 L1724.50 431.04 L1725.00 449.16 L1725.50 455.95 L1726.00 441.71 L1726.50 447.56 L1727.00 446.11 L1727.50 432.58 L1728.00 429.26 L1728.50 445.53 L1729.00 449.04 L1729.50 436.24 L1730.00 443.84 L1730.50 440.79 L1731.00 439.63 L1731.50 437.41 L1732.00 453.75 L1732.50 446.02 L1733.00 444.37 L1733.50 442.61 L1734.00 448.56 L1734.50 442.38 L1735.00 447.00 L1735.50 440.42 L1736.00 448.31 L1736.50 443.60 L1737.00 449.85 L1737.50 434.30 L1738.00 439.83 L1738.50 436.47 L1739.00 457.32 L1739.50 440.94 L1740.00 445.01 L1740.50 432.27 L1741.00 438.06 L1741.50 432.06 L1742.00 444.42 L1742.50 437.58 L1743.00 457.42 L1743.50 438.08 L1744.00 453.28 L1744.50 443.97 L1745.00 449.34 L1745.50 437.46 L1746.00 444.66 L1746.50 443.73 L1747.00 438.34 L1747.50 449.80 L1748.00 432.12 L1748.50 443.52 L1749.00 443.24 L1749.50 445.80 L1750.00 434.72 L1750.50 450.99 L1751.00 436.83 L1751.50 439.50 L1752.00 436.13 L1752.50 441.39 L1753.00 448.52 L1753.50 472.42 L1754.00 419.76 L1754.50 453.78 L1755.00 453.59 L1755.50 459.42 L1756.00 447.62 L1756.50 449.73" stroke="#00bfff" stroke-width="3.0" stroke-linejoin="round" stroke-linecap="round" fill="none"/>
<path d="M1114.60 445.95 L1118.88 445.95 L1123.16 445.95 L1127.43 445.95 L1131.71 445.95 L1135.99 445.95 L1140.27 445.95 L1144.55 445.95 L1148.82 445.95 L1153.10 445.95 L1157.38 445.95 L1161.66 445.95 L1165.93 445.95 L1170.21 445.95 L1174.49 445.95 L1178.77 445.95 L1183.05 445.95 L1187.32 445.95 L1191.60 445.95 L1195.88 445.95 L1200.16 445.95 L1204.44 445.95 L1208.71 445.95 L1212.99 445.95 L1217.27 445.95 L1221.55 445.95 L1225.83 445.95 L1230.10 445.95 L1234.38 445.95 L1238.66 445.95 L1242.94 445.95 L1247.21 445.95 L1251.49 445.95 L1255.77 445.95 L1260.05 445.95 L1264.33 445.95 L1268.60 445.95 L1272.88 445.95 L1277.16 445.95 L1281.44 445.95 L1285.72 445.95 L1289.99 445.95 L1294.27 445.95 L1298.55 445.95 L1302.83 445.95 L1307.11 445.95 L1311.38 445.95 L1315.66 445.95 L1319.94 445.95 L1324.22 445.95 L1328.49 445.95 L1332.77 445.95 L1337.05 445.95 L1341.33 445.95 L1345.61 445.95 L1349.88 445.95 L1354.16 445.95 L1358.44 445.95 L1362.72 445.95 L1367.00 445.95 L1371.27 445.95 L1375.55 445.95 L1379.83 445.95 L1384.11 445.95 L1388.38 445.95 L1392.66 445.95 L1396.94 445.95 L1401.22 445.95 L1405.50 445.95 L1409.77 445.95 L1414.05 445.95 L1418.33 445.95 L1422.61 445.95 L1426.89 445.95 L1431.16 445.95 L1435.44 445.95 L1439.72 445.95 L1444.00 445.95 L1448.28 445.95 L1452.55 445.95 L1456.83 445.95 L1461.11 445.95 L1465.39 445.95 L1469.66 445.95 L1473.94 445.95 L1478.22 445.95 L1482.50 445.95 L1486.78 445.95 L1491.05 445.95 L1495.33 445.95 L1499.61 445.95 L1503.89 445.95 L1508.17 445.95 L1512.44 445.95 L1516.72 445.95 L1521.00 445.95 L1525.28 445.95 L1529.56 445.95 L1533.83 445.95 L1538.11 445.95 L1542.39 445.95 L1546.67 445.95 L1550.94 445.95 L1555.22 445.95 L1559.50 445.95 L1563.78 445.95 L1568.06 445.95 L1572.33 445.95 L1576.61 445.95 L1580.89 445.95 L1585.17 445.95 L1589.45 445.95 L1593.72 445.95 L1598.00 445.95 L1602.28 445.95 L1606.56 445.95 L1610.84 445.95 L1615.11 445.95 L1619.39 445.95 L1623.67 445.95 L1627.95 445.95 L1632.22 445.95 L1636.50 445.95 L1640.78 445.95 L1645.06 445.95 L1649.34 445.95 L1653.61 445.95 L1657.89 445.95 L1662.17 445.95 L1666.45 445.95 L1670.73 445.95 L1675.00 445.95 L1679.28 445.95 L1683.56 445.95 L1687.84 445.95 L1692.12 445.95 L1696.39 445.95 L1700.67 445.95 L1704.95 445.95 L1709.23 445.95 L1713.50 445.95 L1717.78 445.95 L1722.06 445.95 L1726.34 445.95 L1730.62 445.95 L1734.89 445.95 L1739.17 445.95 L1743.45 445.95 L1747.73 445.95 L1752.01 445.95 L1756.28 445.95 L1760.56 445.95 L1764.84 445.95 L1769.12 445.95 L1773.39 445.95 L1777.67 445.95 L1781.95 445.95 L1786.23 445.95 L1790.51 445.95 L1794.78 445.95 L1799.06 445.95 L1803.34 445.95 L1807.62 445.95 L1811.90 445.95 L1816.17 445.95 L1820.45 445.95 L1824.73 445.95 L1829.01 445.95 L1833.29 445.95 L1837.56 445.95 L1841.84 445.95 L1846.12 445.95 L1850.40 445.95 L1854.67 445.95 L1858.95 445.95 L1863.23 445.95 L1867.51 445.95 L1871.79 445.95 L1876.06 445.95 L1880.34 445.95 L1884.62 445.95 L1888.90 445.95 L1893.18 445.95 L1897.45 445.95 L1901.73 445.95 L1906.01 445.95 L1910.29 445.95 L1914.57 445.95 L1918.84 445.95 L1923.12 445.95 L1927.40 445.95 L1931.68 445.95 L1935.95 445.95 L1940.23 445.95 L1944.51 445.95 L1948.79 445.95 L1953.07 445.95 L1957.34 445.95 L1961.62 445.95 L1965.90 445.95" stroke="#ff0000" stroke-width="2.78" stroke-dasharray="10.28 4.44" fill="none"/>
</g>
<path d="M1107.00 31.15H1114.60M1107.00 134.85H1114.60M1107.00 238.55H1114.60M1107.00 342.25H1114.60M1107.00 445.95H1114.60M1107.00 549.65H1114.60M1114.60 549.65V557.25M1398.37 549.65V557.25M1682.13 549.65V557.25M1965.90 549.65V557.25" stroke="#000" stroke-width="1.7" fill="none"/>
<path d="M1200.02 549.65V553.95M1249.99 549.65V553.95M1285.44 549.65V553.95M1312.94 549.65V553.95M1335.41 549.65V553.95M1354.41 549.65V553.95M1370.87 549.65V553.95M1385.38 549.65V553.95M1483.79 549.65V553.95M1533.76 549.65V553.95M1569.21 549.65V553.95M1596.71 549.65V553.95M1619.18 549.65V553.95M1638.18 549.65V553.95M1654.63 549.65V553.95M1669.15 549.65V553.95M1767.56 549.65V553.95M1817.52 549.65V553.95M1852.98 549.65V553.95M1880.48 549.65V553.95M1902.95 549.65V553.95M1921.94 549.65V553.95M1938.40 549.65V553.95M1952.92 549.65V553.95" stroke="#000" stroke-width="1.3" fill="none"/>
<rect x="1114.60" y="31.15" width="851.30" height="518.50" fill="none" stroke="#000" stroke-width="1.7"/>
<text x="1100.00" y="43.95" text-anchor="end" class="tk">2.0</text>
<text x="1100.00" y="147.65" text-anchor="end" class="tk">1.5</text>
<text x="1100.00" y="251.35" text-anchor="end" class="tk">1.0</text>
<text x="1100.00" y="355.05" text-anchor="end" class="tk">0.5</text>
<text x="1100.00" y="458.75" text-anchor="end" class="tk">0.0</text>
<text x="1100.00" y="562.45" text-anchor="end" class="tk">−0.5</text>
<text x="1074.80" y="588.95" class="tk">10<tspan dy="-12.6" dx="0.4" font-size="23.65">−4</tspan></text>
<text x="1358.57" y="588.95" class="tk">10<tspan dy="-12.6" dx="0.4" font-size="23.65">−3</tspan></text>
<text x="1642.33" y="588.95" class="tk">10<tspan dy="-12.6" dx="0.4" font-size="23.65">−2</tspan></text>
<text x="1926.10" y="588.95" class="tk">10<tspan dy="-12.6" dx="0.4" font-size="23.65">−1</tspan></text>
<text x="1114.40" y="24.75" class="tk">1e−10</text>
<text x="1489.80" y="631.85" class="di" font-size="31">f</text>
<text x="1513.00" y="631.85" class="tk">[Hz]</text>
<rect x="1131.50" y="48.15" width="411.40" height="111.40" rx="6.8" ry="6.8" fill="#fff" stroke="#ccc" stroke-width="1.7"/>
<path d="M1144.80 75.10h67.5" stroke="#00bfff" stroke-width="3.0" stroke-linecap="square" fill="none"/>
<path d="M1144.60 126.10h67.8" stroke="#ff0000" stroke-width="2.78" stroke-dasharray="10.28 4.44" fill="none"/>
<text x="1239.30" y="86.60" class="tk">reconstructed</text>
<text x="1487.20" y="86.60" class="om">Ω</text>
<text x="1514.50" y="75.10" class="mi" font-size="24.3">V</text>
<text x="1239.30" y="137.70" class="tk">injected</text>
<text x="1384.90" y="137.70" class="om">Ω</text>
<text x="1412.20" y="126.20" class="mi" font-size="24.3">V</text>
</g>
<g id="axB">
<g clip-path="url(#clipB)">
<clipPath id="lowB"><path d="M87.70 613.45L87.70 1183.95L294.10 1183.95L294.10 887.00L294.40 887.00L294.40 1183.95L310.95 1183.95L310.95 792.00L311.25 792.00L311.25 1183.95L329.00 1183.95L329.00 999.00L330.20 999.00L330.20 1088.50L332.50 1088.50L332.50 1153.50L334.10 1153.50L334.10 1183.95L341.00 1183.95L341.00 1140.60L344.10 1140.60L344.10 1183.95L355.20 1183.95L355.20 1143.00L356.40 1143.00L356.80 1160.00L357.60 1143.00L361.10 1142.70L361.10 1113.30L363.00 1113.30L363.20 1183.95L367.30 1183.95L367.30 1121.00L368.40 1121.00L368.40 1134.40L371.40 1134.40L372.30 1125.00L372.30 1183.95L376.10 1183.95L376.10 1081.30L378.00 1081.30L378.20 1013.00L379.00 1013.00L380.70 1081.30L382.30 1081.30L382.50 1183.95L385.90 1183.95L386.40 1120.00L386.90 1095.20L389.00 1094.70L389.00 623.45L683.90 623.45L683.90 1060.00L684.20 1061.90L684.80 1062.95L686.60 1062.95L687.20 1061.90L687.20 1060.00L687.30 980.00L687.60 977.00L687.80 977.30L688.40 978.35L690.20 978.35L690.80 977.30L690.90 977.00L691.10 893.00L692.50 888.00L695.80 888.00L696.10 1062.00L696.10 1064.50L696.70 1065.55L698.40 1065.55L699.00 1064.50L699.00 1062.00L699.90 1011.00L701.40 1011.00L701.40 1150.00L701.40 1151.10L702.00 1152.15L703.70 1152.15L704.30 1151.10L704.40 1150.00L704.50 1023.00L704.60 1019.00L705.20 1020.05L707.00 1020.05L707.60 1019.00L707.70 1018.00L708.10 915.00L709.10 915.00L709.20 1007.00L709.20 1008.70L709.80 1009.75L711.40 1009.75L712.00 1008.70L712.00 1007.00L712.30 897.50L714.80 897.50L714.80 1105.00L714.90 1106.70L715.50 1107.75L717.30 1107.75L717.90 1106.70L717.90 1105.00L718.00 1060.00L719.00 1060.00L719.00 1183.95L722.60 1183.95L722.60 1013.60L725.70 1013.60L725.90 1155.00L725.90 1156.20L726.50 1157.25L728.30 1157.25L728.90 1156.20L729.00 1155.00L729.30 951.00L731.90 951.00L731.90 1183.95L749.40 1183.95L749.90 983.70L752.00 983.70L752.30 1156.00L752.30 1157.30L752.90 1158.35L754.70 1158.35L755.30 1157.30L755.30 1156.00L755.40 1040.00L756.20 1040.00L756.20 864.50L757.60 864.50L757.60 1040.00L759.20 1040.00L759.20 1120.00L759.20 1121.20L759.80 1122.25L761.60 1122.25L762.20 1121.20L762.20 1120.00L762.30 1040.00L764.30 1040.00L764.30 1136.90L765.90 1137.00L765.90 1183.95L771.00 1183.95L771.00 1040.00L771.90 1040.00L771.90 915.00L772.30 915.00L772.30 1040.00L773.10 1040.00L773.10 1183.95L775.90 1183.95L775.90 1046.00L780.30 1046.00L780.30 1183.95L795.10 1183.95L795.10 749.00L795.60 749.00L795.60 1183.95L949.00 1183.95L949.00 613.45Z"/></clipPath>
<path d="M87.70 1211.95L87.70 641.45L96.30 641.45L96.30 1201.95L96.70 1201.95L96.70 641.45L102.85 641.45L102.85 1201.95L104.75 1201.95L104.75 641.45L109.88 641.45L109.88 1201.95L111.53 1201.95L111.53 641.45L115.42 641.45L115.42 1201.95L115.77 1201.95L115.77 641.45L130.40 641.45L130.40 1201.95L132.20 1201.95L132.20 641.45L136.95 641.45L136.95 1201.95L138.05 1201.95L138.05 641.45L150.00 641.45L150.00 1201.95L151.00 1201.95L151.00 641.45L161.00 641.45L161.00 1201.95L164.20 1201.95L164.20 641.45L171.90 641.45L171.90 1201.95L173.10 1201.95L173.10 641.45L176.00 641.45L176.00 1201.95L177.00 1201.95L177.00 641.45L180.00 641.45L180.00 1201.95L184.00 1201.95L184.00 641.45L187.90 641.45L187.90 1201.95L190.70 1201.95L190.70 641.45L195.90 641.45L195.90 1201.95L198.70 1201.95L198.70 641.45L205.40 641.45L205.40 1201.95L205.80 1201.95L205.80 641.45L208.40 641.45L208.40 1201.95L208.80 1201.95L208.80 641.45L212.20 641.45L212.20 1201.95L214.80 1201.95L214.80 641.45L222.60 641.45L222.60 1201.95L223.40 1201.95L223.40 641.45L226.10 641.45L226.10 1201.95L230.20 1201.95L230.20 641.45L234.05 641.45L234.05 1201.95L236.15 1201.95L236.15 641.45L245.30 641.45L245.30 1201.95L246.70 1201.95L246.70 641.45L250.38 641.45L250.38 1201.95L250.62 1201.95L250.62 641.45L257.30 641.45L257.30 1201.95L257.70 1201.95L257.70 641.45L262.45 641.45L262.45 1201.95L263.35 1201.95L263.35 641.45L268.90 641.45L268.90 1201.95L269.90 1201.95L269.90 641.45L275.10 641.45L275.10 1201.95L275.35 1201.95L275.35 641.45L297.20 641.45L297.20 1201.95L298.10 1201.95L298.10 641.45L305.30 641.45L305.30 690.00L305.60 690.00L305.60 641.45L314.00 641.45L314.00 1201.95L315.20 1201.95L315.20 641.45L322.30 641.45L322.30 990.00L323.00 990.00L323.00 641.45L326.30 641.45L326.30 700.00L326.60 700.00L326.60 641.45L332.10 641.45L332.10 720.00L333.30 720.00L333.30 641.45L336.10 641.45L336.10 862.00L339.00 862.00L339.00 641.45L343.10 641.45L343.10 789.00L344.10 789.00L344.10 830.00L346.90 830.00L346.90 720.00L351.00 720.00L351.00 665.00L352.90 665.00L352.90 641.45L356.40 641.45L356.50 978.60L359.30 978.60L359.60 863.00L359.60 862.30L360.20 861.25L362.00 861.25L362.60 862.30L362.70 863.00L362.90 1005.00L363.80 1005.00L364.00 730.00L369.60 730.00L369.70 981.00L370.30 981.00L371.50 891.00L371.70 890.20L372.30 889.15L374.10 889.15L374.70 890.20L374.80 891.00L374.80 998.00L377.80 1013.00L378.40 1013.00L378.50 864.00L378.50 863.30L379.10 862.25L380.80 862.25L381.40 863.30L381.50 864.00L381.60 975.00L383.00 975.00L384.00 971.40L384.90 951.00L384.90 950.60L385.50 949.55L387.30 949.55L387.90 950.60L388.00 952.00L389.00 990.00L389.00 1201.95L683.90 1201.95L684.90 800.00L685.00 746.00L685.00 745.60L685.60 744.55L687.40 744.55L688.00 745.60L688.00 746.00L688.10 831.50L691.20 831.50L691.30 757.00L691.90 756.50L692.50 755.45L694.30 755.45L694.50 756.50L694.50 756.00L694.50 710.00L694.50 709.00L695.10 707.95L696.90 707.95L697.50 709.00L697.60 710.00L697.80 760.00L699.90 910.00L702.00 912.00L702.00 957.00L703.00 957.00L703.00 912.00L704.00 900.00L704.10 780.00L706.10 770.00L706.10 641.45L709.50 641.45L709.60 716.00L709.70 715.20L710.30 714.15L712.10 714.15L712.70 715.20L712.90 716.00L712.90 771.60L713.90 771.60L714.00 677.00L714.10 676.20L714.70 675.15L716.50 675.15L717.10 676.20L717.20 677.00L717.20 706.20L719.00 707.00L719.20 866.00L720.90 866.00L721.00 641.45L723.90 641.45L723.90 847.00L724.40 847.00L724.40 641.45L733.50 641.45L733.50 924.00L735.00 924.00L735.00 641.45L739.10 641.45L739.10 722.00L740.10 722.00L740.10 641.45L746.30 641.45L746.30 1121.00L747.00 1121.00L747.00 641.45L760.20 641.45L760.20 855.00L760.90 855.00L760.90 641.45L763.20 641.45L763.20 1201.95L763.90 1201.95L763.90 641.45L768.60 641.45L768.60 724.00L768.90 724.00L768.90 863.00L769.20 863.00L769.20 724.00L769.90 724.00L769.90 641.45L779.60 641.45L779.60 1201.95L779.90 1201.95L779.90 641.45L799.60 641.45L799.60 954.00L800.30 954.00L800.30 641.45L817.50 641.45L817.50 1201.95L818.40 1201.95L818.40 641.45L845.90 641.45L845.90 1201.95L847.20 1201.95L847.20 641.45L855.40 641.45L855.40 1201.95L857.10 1201.95L857.10 641.45L876.30 641.45L876.30 1201.95L876.70 1201.95L876.70 641.45L886.50 641.45L886.50 1201.95L887.20 1201.95L887.20 641.45L912.20 641.45L912.20 1201.95L913.10 1201.95L913.10 641.45L925.10 641.45L925.10 1201.95L926.00 1201.95L926.00 641.45L942.00 641.45L942.00 1201.95L942.80 1201.95L942.80 641.45L949.00 641.45L949.00 1211.95Z" fill="#00bfff" clip-path="url(#lowB)"/>
<path d="M388.50 1000.00 L389.60 1058.50 L390.80 945.10 L392.30 1043.50 L394.30 970.90 L396.70 1093.70 L398.20 986.50 L399.50 1038.50 L400.60 1004.50 L401.90 1108.70 L402.90 1002.30 L404.60 1053.50 L407.00 964.70 L408.60 1072.60 L410.10 986.30 L411.60 1038.50 L412.40 991.50 L413.20 1070.00 L415.60 986.90 L416.80 1044.80 L418.50 1006.50 L421.50 1048.50 L423.30 984.80 L424.50 1056.10 L427.40 994.10 L429.00 1054.10 L431.50 1009.50 L432.80 1038.50 L435.20 981.00 L436.80 1037.00 L438.50 992.00 L440.00 1045.80 L442.10 997.70 L444.00 1033.50 L445.20 1006.50 L446.70 1045.30 L448.80 994.10 L450.50 1034.50 L452.40 1010.00 L453.90 1045.80 L455.50 1001.50 L457.00 1028.50 L458.90 987.90 L460.60 1025.60 L462.50 1001.50 L463.50 1013.50 L465.00 990.50 L467.00 1016.50 L469.40 1002.80 L472.50 1022.50 L475.90 996.10 L477.50 1013.70 L478.70 999.20 L480.00 1010.50 L481.80 1000.30 L483.80 1026.60 L485.50 1003.50 L486.20 1008.50 L487.90 999.70 L490.00 1010.50 L490.60 1000.79 L491.19 1002.55 L491.78 1003.37 L492.37 998.41 L492.96 1003.43 L493.54 1001.68 L494.12 1003.06 L494.70 1001.31 L495.27 1003.79 L495.84 997.23 L496.41 1005.23 L496.98 1003.28 L497.54 997.62 L498.11 1001.23 L498.66 1000.37 L499.22 993.51 L499.78 1000.41 L500.33 996.61 L500.88 997.42 L501.42 996.14 L501.97 996.46 L502.51 997.78 L503.05 997.65 L503.58 992.39 L504.12 996.12 L504.65 992.63 L505.18 992.64 L505.71 995.26 L506.24 998.74 L506.76 997.85 L507.28 993.86 L507.80 993.33 L508.32 992.76 L508.83 995.54 L509.34 997.78 L509.85 994.75 L510.36 996.63 L510.87 995.26 L511.37 998.73 L511.87 987.70 L512.37 987.11 L512.87 992.87 L513.37 995.25 L513.87 991.81 L514.37 994.19 L514.87 989.04 L515.37 988.56 L515.87 990.04 L516.37 994.67 L516.87 994.01 L517.37 989.43 L517.87 992.00 L518.37 989.21 L518.87 991.08 L519.37 987.34 L519.87 990.45 L520.37 988.09 L520.87 990.04 L521.37 987.93 L521.87 987.19 L522.37 989.90 L522.87 988.27 L523.37 989.18 L523.87 987.59 L524.37 990.61 L524.87 985.91 L525.37 990.67 L525.87 992.22 L526.37 986.98 L526.87 993.09 L527.37 993.77 L527.87 988.56 L528.37 982.67 L528.87 981.63 L529.37 985.95 L529.87 991.89 L530.37 987.88 L530.87 988.24 L531.37 984.82 L531.87 983.04 L532.37 986.35 L532.87 981.43 L533.37 984.09 L533.87 986.11 L534.37 984.38 L534.87 985.70 L535.37 982.39 L535.87 985.48 L536.37 984.64 L536.87 977.86 L537.37 979.57 L537.87 980.35 L538.37 984.52 L538.87 983.16 L539.37 982.87 L540.50 984.64 L541.00 983.87 L541.50 980.87 L542.00 983.08 L542.50 978.13 L543.00 973.57 L543.50 986.19 L544.00 981.54 L544.50 971.82 L545.00 975.31 L545.50 976.71 L546.00 980.11 L546.50 983.67 L547.00 979.52 L547.50 976.39 L548.00 979.67 L548.50 976.71 L549.00 978.08 L549.50 974.43 L550.00 971.98 L550.50 981.83 L551.00 975.05 L551.50 976.60 L552.00 973.36 L552.50 973.33 L553.00 973.87 L553.50 977.91 L554.00 980.07 L554.50 976.94 L555.00 971.94 L555.50 986.33 L556.00 977.54 L556.50 977.77 L557.00 970.88 L557.50 971.98 L558.00 975.58 L558.50 964.61 L559.00 968.73 L559.50 973.89 L560.00 983.08 L560.50 973.51 L561.00 966.34 L561.50 965.18 L562.00 975.43 L562.50 966.53 L563.00 968.52 L563.50 979.57 L564.00 969.96 L564.50 967.62 L565.00 965.20 L565.50 975.55 L566.00 975.30 L566.50 964.86 L567.00 960.74 L567.50 967.15 L568.00 974.72 L568.50 969.64 L569.00 960.51 L569.50 968.48 L570.00 970.55 L570.50 965.97 L571.00 966.77 L571.50 965.59 L572.00 962.51 L572.50 961.32 L573.00 957.04 L573.50 957.68 L574.00 954.26 L574.50 966.41 L575.00 966.39 L575.50 963.63 L576.00 965.55 L576.50 963.02 L577.00 957.84 L577.50 963.21 L578.00 959.80 L578.50 960.20 L579.00 948.33 L579.50 957.54 L580.00 963.15 L580.50 958.02 L581.00 954.54 L581.50 949.25 L582.00 954.98 L582.50 968.14 L584.30 923.60 L585.50 958.50 L586.30 946.50 L587.40 1002.10 L588.50 950.00 L589.00 955.11 L589.50 946.08 L590.00 973.39 L590.50 957.99 L591.00 958.92 L591.50 952.30 L592.00 953.98 L592.50 955.80 L593.00 954.43 L593.50 947.85 L594.00 957.15 L594.50 955.89 L595.00 950.71 L595.50 945.48 L596.00 943.78 L596.50 942.31 L597.00 952.73 L597.50 947.09 L598.00 957.26 L598.50 941.70 L599.00 955.51 L599.50 949.03 L601.40 892.90 L603.00 948.50 L604.00 936.50 L605.70 979.20 L606.80 940.00 L607.30 947.26 L607.80 938.16 L608.30 948.39 L608.80 943.02 L609.30 927.60 L609.80 951.38 L610.30 940.68 L610.80 947.19 L611.30 958.62 L611.80 943.18 L612.30 929.71 L612.80 933.17 L613.30 949.63 L613.80 924.60 L614.30 941.49 L614.80 942.30 L615.30 926.35 L615.80 939.53 L616.30 943.21 L616.80 928.98 L617.30 931.64 L617.80 942.15 L618.30 922.08 L618.80 926.14 L619.30 945.67 L620.00 930.00 L621.00 969.30 L624.50 906.50 L626.00 934.50 L627.70 884.10 L629.30 945.10 L631.10 887.70 L632.50 944.10 L634.40 886.70 L636.30 1005.90 L638.00 901.50 L639.50 948.50 L641.40 852.10 L643.20 971.40 L644.60 875.80 L646.00 943.50 L647.20 876.90 L649.20 993.50 L651.00 896.50 L653.20 939.40 L654.30 887.20 L657.60 1035.80 L658.60 878.90 L659.70 928.50 L661.00 800.60 L662.40 950.50 L663.80 868.10 L665.40 996.60 L667.50 881.50 L669.70 1024.00 L671.00 837.20 L673.20 923.50 L676.40 811.40 L677.50 858.50 L678.60 825.50 L680.50 898.50 L682.40 799.50 L683.50 918.50 L685.00 850.00" stroke="#00bfff" stroke-width="3.0" stroke-linejoin="round" stroke-linecap="round" fill="none"/>
<path d="M621.00 924.90 L621.50 939.93 L622.00 942.68 L622.50 938.98 L623.00 944.50 L623.50 932.26 L624.00 920.04 L624.50 931.01 L625.00 935.18 L625.50 934.26 L626.00 925.28 L626.50 912.43 L627.00 947.60 L627.50 929.23 L628.00 932.92 L628.50 922.94 L629.00 920.90 L629.50 933.42 L630.00 935.79 L630.50 918.58 L631.00 921.56 L631.50 919.89 L632.00 915.96 L632.50 917.87 L633.00 923.96 L633.50 908.60 L634.00 944.11 L634.50 910.56 L635.00 919.82 L635.50 939.85 L636.00 918.73 L636.50 922.74 L637.00 927.88 L637.50 937.84 L638.00 912.44 L638.50 935.47 L639.00 909.47 L639.50 938.55 L640.00 930.80 L640.50 924.62 L641.00 915.66 L641.50 934.30 L642.00 927.30 L642.50 930.51 L643.00 903.91 L643.50 916.93 L644.00 919.81 L644.50 922.22 L645.00 898.45 L645.50 898.23 L646.00 920.25 L646.50 910.16 L647.00 916.41 L647.50 901.53 L648.00 914.36 L648.50 902.96 L649.00 899.27 L649.50 898.92 L650.00 915.05 L650.50 892.48 L651.00 890.33 L651.50 900.05 L652.00 912.71 L652.50 916.22 L653.00 916.17 L653.50 918.93 L654.00 901.39 L654.50 901.92 L655.00 924.97 L655.50 904.74 L656.00 909.53 L656.50 894.42 L657.00 910.51 L657.50 889.63 L658.00 898.43 L658.50 900.38 L659.00 900.35 L659.50 909.80 L660.00 911.50 L660.50 912.71 L661.00 901.54 L661.50 892.74 L662.00 898.82 L662.50 893.81 L663.00 888.20 L663.50 919.53 L664.00 882.58 L664.50 906.70 L665.00 890.75 L665.50 873.23 L666.00 922.70 L666.50 890.08 L667.00 880.11 L667.50 925.30 L668.00 889.87 L668.50 895.06 L669.00 914.45 L669.50 878.91 L670.00 878.63 L670.50 901.50 L671.00 897.16 L671.50 878.87 L672.00 869.18 L672.50 870.19 L673.00 896.87 L673.50 907.61 L674.00 906.41 L674.50 894.92 L675.00 894.01 L675.50 855.13 L676.00 886.82 L676.50 879.03 L677.00 906.74 L677.50 882.68 L678.00 887.30 L678.50 887.62 L679.00 891.14 L679.50 892.51 L680.00 916.85 L680.50 906.23 L681.00 889.40 L681.50 870.67 L682.00 909.31 L682.50 895.33 L683.00 882.51 L683.50 871.82 L684.00 863.89 L684.50 896.37" stroke="#00bfff" stroke-width="3.0" stroke-linejoin="round" stroke-linecap="round" fill="none"/>
<path d="M92.70 1060.55 L96.98 1060.37 L101.26 1060.18 L105.53 1060.00 L109.81 1059.80 L114.09 1059.60 L118.37 1059.40 L122.65 1059.19 L126.92 1058.98 L131.20 1058.77 L135.48 1058.54 L139.76 1058.32 L144.03 1058.08 L148.31 1057.85 L152.59 1057.60 L156.87 1057.35 L161.15 1057.10 L165.42 1056.84 L169.70 1056.57 L173.98 1056.30 L178.26 1056.02 L182.54 1055.73 L186.81 1055.44 L191.09 1055.14 L195.37 1054.83 L199.65 1054.52 L203.93 1054.19 L208.20 1053.86 L212.48 1053.53 L216.76 1053.18 L221.04 1052.83 L225.31 1052.47 L229.59 1052.10 L233.87 1051.72 L238.15 1051.33 L242.43 1050.94 L246.70 1050.53 L250.98 1050.12 L255.26 1049.69 L259.54 1049.26 L263.82 1048.82 L268.09 1048.36 L272.37 1047.89 L276.65 1047.42 L280.93 1046.93 L285.21 1046.43 L289.48 1045.92 L293.76 1045.40 L298.04 1044.86 L302.32 1044.32 L306.59 1043.75 L310.87 1043.18 L315.15 1042.59 L319.43 1041.99 L323.71 1041.38 L327.98 1040.75 L332.26 1040.11 L336.54 1039.45 L340.82 1038.77 L345.10 1038.08 L349.37 1037.38 L353.65 1036.65 L357.93 1035.91 L362.21 1035.16 L366.48 1034.38 L370.76 1033.59 L375.04 1032.78 L379.32 1031.95 L383.60 1031.10 L387.87 1030.23 L392.15 1029.34 L396.43 1028.43 L400.71 1027.49 L404.99 1026.54 L409.26 1025.56 L413.54 1024.56 L417.82 1023.54 L422.10 1022.50 L426.38 1021.42 L430.65 1020.33 L434.93 1019.21 L439.21 1018.06 L443.49 1016.88 L447.76 1015.68 L452.04 1014.45 L456.32 1013.19 L460.60 1011.90 L464.88 1010.58 L469.15 1009.23 L473.43 1007.85 L477.71 1006.44 L481.99 1004.99 L486.27 1003.51 L490.54 1001.99 L494.82 1000.44 L499.10 998.85 L503.38 997.23 L507.66 995.57 L511.93 993.86 L516.21 992.12 L520.49 990.34 L524.77 988.52 L529.04 986.65 L533.32 984.74 L537.60 982.78 L541.88 980.78 L546.16 978.74 L550.43 976.64 L554.71 974.50 L558.99 972.30 L563.27 970.05 L567.55 967.76 L571.82 965.40 L576.10 962.99 L580.38 960.53 L584.66 958.01 L588.94 955.43 L593.21 952.79 L597.49 950.08 L601.77 947.32 L606.05 944.49 L610.32 941.59 L614.60 938.62 L618.88 935.59 L623.16 932.48 L627.44 929.30 L631.71 926.05 L635.99 922.72 L640.27 919.31 L644.55 915.83 L648.83 912.26 L653.10 908.61 L657.38 904.87 L661.66 901.05 L665.94 897.13 L670.22 893.12 L674.49 889.02 L678.77 884.83 L683.05 880.53 L687.33 876.14 L691.60 871.64 L695.88 867.04 L700.16 862.33 L704.44 857.51 L708.72 852.57 L712.99 847.52 L717.27 842.36 L721.55 837.07 L725.83 831.66 L730.11 826.12 L734.38 820.45 L738.66 814.65 L742.94 808.71 L747.22 802.63 L751.49 796.42 L755.77 790.05 L760.05 783.54 L764.33 776.87 L768.61 770.05 L772.88 763.07 L777.16 755.93 L781.44 748.61 L785.72 741.13 L790.00 733.47 L794.27 725.63 L798.55 717.61 L802.83 709.40 L807.11 701.00 L811.39 692.41 L815.66 683.61 L819.94 674.60 L824.22 665.39 L828.50 655.95 L832.77 646.30 L837.05 636.42 L841.33 626.31 L845.61 615.97 L849.89 605.38 L854.16 594.54 L858.44 583.45 L862.72 572.10 L867.00 560.49 L871.28 548.60 L875.55 536.43 L879.83 523.98 L884.11 511.24 L888.39 498.20 L892.67 484.86 L896.94 471.20 L901.22 457.22 L905.50 442.91 L909.78 428.27 L914.05 413.29 L918.33 397.96 L922.61 382.27 L926.89 366.21 L931.17 349.77 L935.44 332.95 L939.72 315.74 L944.00 298.12" stroke="#ff0000" stroke-width="2.78" stroke-dasharray="10.28 4.44" fill="none"/>
</g>
<path d="M85.10 653.45H92.70M85.10 757.15H92.70M85.10 860.85H92.70M85.10 964.55H92.70M85.10 1068.25H92.70M85.10 1171.95H92.70M92.70 1171.95V1179.55M376.47 1171.95V1179.55M660.23 1171.95V1179.55M944.00 1171.95V1179.55" stroke="#000" stroke-width="1.7" fill="none"/>
<path d="M178.12 1171.95V1176.25M228.09 1171.95V1176.25M263.54 1171.95V1176.25M291.04 1171.95V1176.25M313.51 1171.95V1176.25M332.51 1171.95V1176.25M348.97 1171.95V1176.25M363.48 1171.95V1176.25M461.89 1171.95V1176.25M511.86 1171.95V1176.25M547.31 1171.95V1176.25M574.81 1171.95V1176.25M597.28 1171.95V1176.25M616.28 1171.95V1176.25M632.73 1171.95V1176.25M647.25 1171.95V1176.25M745.66 1171.95V1176.25M795.62 1171.95V1176.25M831.08 1171.95V1176.25M858.58 1171.95V1176.25M881.05 1171.95V1176.25M900.04 1171.95V1176.25M916.50 1171.95V1176.25M931.02 1171.95V1176.25" stroke="#000" stroke-width="1.3" fill="none"/>
<rect x="92.70" y="653.45" width="851.30" height="518.50" fill="none" stroke="#000" stroke-width="1.7"/>
<text x="78.10" y="666.25" text-anchor="end" class="tk">2.0</text>
<text x="78.10" y="769.95" text-anchor="end" class="tk">1.5</text>
<text x="78.10" y="873.65" text-anchor="end" class="tk">1.0</text>
<text x="78.10" y="977.35" text-anchor="end" class="tk">0.5</text>
<text x="78.10" y="1081.05" text-anchor="end" class="tk">0.0</text>
<text x="78.10" y="1184.75" text-anchor="end" class="tk">−0.5</text>
<text x="52.90" y="1211.25" class="tk">10<tspan dy="-12.6" dx="0.4" font-size="23.65">−4</tspan></text>
<text x="336.67" y="1211.25" class="tk">10<tspan dy="-12.6" dx="0.4" font-size="23.65">−3</tspan></text>
<text x="620.43" y="1211.25" class="tk">10<tspan dy="-12.6" dx="0.4" font-size="23.65">−2</tspan></text>
<text x="904.20" y="1211.25" class="tk">10<tspan dy="-12.6" dx="0.4" font-size="23.65">−1</tspan></text>
<text x="92.50" y="647.05" class="tk">1e−10</text>
<text x="467.90" y="1254.15" class="di" font-size="31">f</text>
<text x="491.10" y="1254.15" class="tk">[Hz]</text>
<rect x="109.60" y="670.45" width="412.10" height="111.40" rx="6.8" ry="6.8" fill="#fff" stroke="#ccc" stroke-width="1.7"/>
<path d="M122.90 697.40h67.5" stroke="#00bfff" stroke-width="3.0" stroke-linecap="square" fill="none"/>
<path d="M122.70 748.40h67.8" stroke="#ff0000" stroke-width="2.78" stroke-dasharray="10.28 4.44" fill="none"/>
<text x="217.40" y="708.90" class="tk">reconstructed</text>
<text x="465.30" y="708.90" class="om">Ω</text>
<text x="492.60" y="697.40" class="mi" font-size="24.3">B</text>
<text x="217.40" y="760.00" class="tk">injected</text>
<text x="363.00" y="760.00" class="om">Ω</text>
<text x="390.30" y="748.50" class="mi" font-size="24.3">B</text>
</g>
<g id="axL">
<g clip-path="url(#clipL)">
<clipPath id="lowL"><path d="M1109.60 613.45L1109.60 1183.95L1332.20 1183.95L1332.20 1066.00L1332.70 1066.00L1332.70 1183.95L1352.20 1183.95L1352.80 1070.00L1354.40 1070.00L1355.00 1183.95L1362.50 1183.95L1362.50 1089.60L1364.10 1089.60L1364.10 1002.00L1365.60 1002.00L1365.90 1089.60L1365.90 1183.95L1370.00 1183.95L1370.30 1120.00L1371.30 1120.00L1371.50 1155.00L1372.00 1155.00L1372.30 1120.00L1373.60 1120.00L1373.60 1183.95L1376.70 1183.95L1377.00 1073.00L1379.00 1073.00L1379.80 1183.95L1386.00 1183.95L1386.00 1056.00L1392.00 1050.00L1392.00 623.45L1726.00 623.45L1726.00 1088.50L1727.10 1088.50L1727.10 1183.95L1731.20 1183.95L1731.30 1145.00L1732.00 1145.00L1732.30 1115.30L1734.60 1115.30L1734.80 1183.95L1738.50 1183.95L1738.50 1090.50L1742.00 1090.50L1742.10 1146.00L1742.10 1146.90L1742.70 1147.95L1744.50 1147.95L1745.10 1146.90L1745.20 1146.00L1746.20 1100.00L1746.30 1183.95L1755.60 1183.95L1755.60 1128.70L1757.40 1128.70L1757.40 1183.95L1768.20 1183.95L1768.20 826.00L1768.70 826.00L1768.70 1183.95L1781.30 1183.95L1781.30 1058.50L1781.80 1058.50L1781.80 1183.95L1810.10 1183.95L1810.10 1008.00L1811.00 1008.00L1811.00 1183.95L1839.20 1183.95L1839.20 722.00L1839.80 722.00L1839.80 1183.95L1970.90 1183.95L1970.90 613.45Z"/></clipPath>
<path d="M1109.60 1211.95L1109.60 641.45L1118.20 641.45L1118.20 1201.95L1118.60 1201.95L1118.60 641.45L1124.75 641.45L1124.75 1201.95L1126.65 1201.95L1126.65 641.45L1131.77 641.45L1131.77 1201.95L1133.42 1201.95L1133.42 641.45L1137.33 641.45L1137.33 1201.95L1137.67 1201.95L1137.67 641.45L1152.30 641.45L1152.30 1201.95L1154.10 1201.95L1154.10 641.45L1158.85 641.45L1158.85 1201.95L1159.95 1201.95L1159.95 641.45L1171.90 641.45L1171.90 1201.95L1172.90 1201.95L1172.90 641.45L1182.90 641.45L1182.90 1201.95L1186.10 1201.95L1186.10 641.45L1193.80 641.45L1193.80 1201.95L1195.00 1201.95L1195.00 641.45L1197.90 641.45L1197.90 1201.95L1198.90 1201.95L1198.90 641.45L1201.90 641.45L1201.90 1201.95L1205.90 1201.95L1205.90 641.45L1209.80 641.45L1209.80 1201.95L1212.60 1201.95L1212.60 641.45L1217.80 641.45L1217.80 1201.95L1220.60 1201.95L1220.60 641.45L1227.30 641.45L1227.30 1201.95L1227.70 1201.95L1227.70 641.45L1230.30 641.45L1230.30 1201.95L1230.70 1201.95L1230.70 641.45L1234.10 641.45L1234.10 1201.95L1236.70 1201.95L1236.70 641.45L1244.50 641.45L1244.50 1201.95L1245.30 1201.95L1245.30 641.45L1248.00 641.45L1248.00 1201.95L1252.10 1201.95L1252.10 641.45L1255.95 641.45L1255.95 1201.95L1258.05 1201.95L1258.05 641.45L1267.20 641.45L1267.20 1201.95L1268.60 1201.95L1268.60 641.45L1272.28 641.45L1272.28 1201.95L1272.53 1201.95L1272.53 641.45L1279.20 641.45L1279.20 1201.95L1279.60 1201.95L1279.60 641.45L1284.35 641.45L1284.35 1201.95L1285.25 1201.95L1285.25 641.45L1290.80 641.45L1290.80 1201.95L1291.80 1201.95L1291.80 641.45L1310.60 641.45L1310.60 720.00L1311.20 720.00L1311.20 641.45L1336.00 641.45L1336.00 1029.00L1336.90 1029.00L1336.90 641.45L1344.30 641.45L1344.30 882.00L1344.60 882.00L1344.60 641.45L1347.20 641.45L1347.20 821.00L1347.70 821.00L1347.70 641.45L1351.10 641.45L1351.10 720.00L1355.90 720.00L1355.90 1037.00L1358.10 1037.00L1358.10 641.45L1361.00 641.45L1361.00 720.00L1362.80 720.00L1362.80 829.60L1364.10 829.60L1364.10 730.00L1367.20 730.00L1367.20 787.80L1369.00 788.00L1370.50 800.00L1371.50 907.00L1371.50 998.80L1374.30 998.80L1374.40 946.00L1374.40 945.40L1375.00 944.35L1376.60 944.35L1377.20 945.40L1377.20 946.00L1377.50 832.00L1377.60 830.90L1378.20 829.85L1380.00 829.85L1380.60 830.90L1380.70 832.00L1380.90 1022.50L1383.70 1022.50L1384.00 902.00L1384.00 901.50L1384.60 900.45L1386.10 900.45L1386.70 901.50L1386.80 903.00L1387.00 907.00L1388.00 975.00L1388.10 974.80L1388.70 973.75L1390.50 973.75L1391.10 974.80L1391.20 976.00L1392.00 1037.00L1392.00 1201.95L1726.00 1201.95L1726.00 1056.00L1727.00 1000.00L1730.30 1000.00L1730.50 989.00L1730.50 988.60L1731.10 987.55L1732.90 987.55L1733.50 988.60L1733.50 989.00L1733.60 1060.00L1736.30 1060.00L1736.40 798.00L1736.40 797.30L1737.00 796.25L1738.80 796.25L1739.40 797.30L1739.50 800.00L1739.60 1010.00L1740.90 1010.00L1741.00 877.00L1741.00 876.10L1741.60 875.05L1743.20 875.05L1743.80 876.10L1743.80 877.00L1743.90 990.40L1745.00 989.00L1746.40 989.00L1747.50 990.40L1748.00 908.00L1748.00 907.60L1748.60 906.55L1749.90 906.55L1750.50 907.60L1750.60 908.00L1750.90 994.50L1753.60 994.50L1753.70 852.00L1753.70 850.60L1754.30 849.55L1756.10 849.55L1756.70 850.60L1756.80 852.00L1756.90 920.80L1758.50 920.80L1758.80 795.00L1758.80 793.70L1759.40 792.65L1761.20 792.65L1761.80 793.70L1761.90 795.00L1762.20 897.50L1763.90 897.50L1764.00 729.40L1765.80 729.00L1765.80 641.45L1768.90 641.45L1769.00 757.00L1770.40 757.30L1770.90 800.00L1771.00 902.20L1773.60 902.20L1773.80 794.00L1773.90 792.60L1774.50 791.55L1776.30 791.55L1776.90 792.60L1777.00 794.00L1777.60 1180.00L1778.90 1180.00L1779.00 803.00L1779.00 802.40L1779.60 801.35L1781.40 801.35L1782.00 802.40L1782.00 803.00L1782.10 871.20L1782.80 871.20L1784.30 896.00L1784.40 1180.00L1785.90 1180.00L1786.40 896.50L1788.00 896.00L1788.00 641.45L1791.90 641.45L1792.00 952.30L1794.10 952.30L1794.10 641.45L1796.90 641.45L1796.90 696.00L1797.30 696.00L1797.30 641.45L1801.10 641.45L1801.10 1201.95L1801.90 1201.95L1801.90 641.45L1807.20 641.45L1807.20 780.00L1807.80 780.00L1807.80 641.45L1815.30 641.45L1815.30 934.20L1816.50 934.20L1816.60 1045.00L1817.00 1045.00L1817.20 934.20L1817.80 934.20L1818.30 722.00L1818.30 720.90L1818.90 719.85L1820.60 719.85L1821.20 720.90L1821.20 722.00L1821.40 875.40L1823.80 875.40L1823.90 1180.00L1825.00 1180.00L1825.10 670.00L1825.80 662.50L1825.80 661.60L1826.40 660.55L1828.20 660.55L1828.80 661.60L1828.90 662.50L1829.10 741.00L1829.40 741.00L1829.50 641.45L1845.45 641.45L1845.45 1201.95L1845.95 1201.95L1845.95 641.45L1855.20 641.45L1855.20 1201.95L1855.80 1201.95L1855.80 641.45L1858.00 641.45L1858.00 663.00L1858.30 663.00L1858.30 641.45L1866.90 641.45L1866.90 1201.95L1867.80 1201.95L1867.80 641.45L1870.30 641.45L1870.30 760.00L1870.60 760.00L1870.60 641.45L1874.10 641.45L1874.10 1201.95L1880.10 1201.95L1880.10 641.45L1894.20 641.45L1894.20 1201.95L1894.80 1201.95L1894.80 641.45L1903.40 641.45L1903.40 1201.95L1903.70 1201.95L1903.70 641.45L1918.20 641.45L1918.20 1201.95L1919.10 1201.95L1919.10 641.45L1933.45 641.45L1933.45 1201.95L1933.75 1201.95L1933.75 641.45L1937.90 641.45L1937.90 1201.95L1938.80 1201.95L1938.80 641.45L1970.90 641.45L1970.90 1211.95Z" fill="#00bfff" clip-path="url(#lowL)"/>
<path d="M1390.50 1040.00 L1392.00 1123.60 L1395.50 1050.40 L1397.80 1103.00 L1399.60 952.30 L1402.20 1140.70 L1403.00 1002.80 L1405.60 1108.20 L1407.40 1025.80 L1409.00 1098.50 L1411.50 1017.00 L1412.60 1122.60 L1415.90 1024.80 L1417.50 1093.50 L1419.50 1041.50 L1422.60 1123.60 L1423.60 1032.20 L1426.00 1088.50 L1427.50 1047.50 L1429.50 1108.20 L1431.50 1058.50 L1433.00 1097.90 L1434.30 1057.50 L1436.50 1085.50 L1438.00 1046.20 L1441.00 1076.50 L1442.50 1061.50 L1444.70 1090.70 L1446.20 1051.90 L1448.90 1078.80 L1450.50 1055.50 L1451.50 1066.50 L1452.50 1054.00 L1454.00 1092.70 L1455.80 1061.50 L1457.10 1088.60 L1458.40 1046.70 L1461.20 1078.80 L1462.80 1050.90 L1465.00 1073.50 L1468.50 1054.00 L1470.00 1078.80 L1472.00 1059.50 L1474.00 1070.50 L1476.00 1056.00 L1477.20 1064.50 L1478.30 1055.50 L1479.60 1079.80 L1482.40 1055.50 L1486.50 1077.80 L1488.50 1063.50 L1490.00 1070.50 L1491.60 1062.70 L1493.50 1069.50 L1495.80 1061.70 L1497.30 1072.60 L1500.00 1064.50 L1502.00 1069.50 L1505.30 1060.70 L1508.00 1068.50 L1510.70 1064.80 L1512.80 1071.60 L1515.00 1066.00 L1517.00 1069.50 L1519.00 1064.30 L1520.50 1068.00 L1521.06 1065.05 L1521.61 1068.95 L1522.16 1068.23 L1522.71 1069.56 L1523.26 1064.79 L1523.80 1071.14 L1524.35 1068.50 L1524.89 1065.19 L1525.42 1064.69 L1525.96 1064.83 L1526.49 1066.37 L1527.02 1071.36 L1527.55 1070.60 L1528.07 1066.82 L1528.60 1066.81 L1529.12 1073.33 L1529.64 1070.63 L1530.16 1066.13 L1530.67 1067.86 L1531.18 1067.11 L1531.69 1068.65 L1532.20 1070.57 L1532.71 1067.52 L1533.21 1069.23 L1533.72 1069.75 L1534.22 1070.33 L1534.72 1066.58 L1535.22 1067.66 L1535.72 1073.49 L1536.22 1067.76 L1536.72 1068.33 L1537.22 1069.42 L1537.72 1066.71 L1538.22 1067.21 L1538.72 1072.72 L1539.22 1071.71 L1539.72 1065.30 L1540.22 1068.42 L1540.72 1064.80 L1541.22 1064.15 L1541.72 1068.26 L1542.22 1072.33 L1542.72 1068.03 L1543.22 1072.19 L1543.72 1065.41 L1544.22 1068.62 L1544.72 1068.47 L1545.22 1068.48 L1545.72 1070.92 L1546.22 1069.79 L1546.72 1066.77 L1547.22 1064.61 L1547.72 1066.76 L1548.22 1068.19 L1548.72 1066.76 L1549.22 1064.13 L1549.72 1063.48 L1550.22 1070.45 L1550.72 1068.94 L1551.22 1066.66 L1551.72 1069.45 L1552.22 1069.59 L1552.72 1067.67 L1553.22 1067.09 L1553.72 1071.38 L1554.22 1070.57 L1554.72 1072.15 L1555.22 1071.01 L1555.72 1068.96 L1556.22 1067.02 L1556.72 1067.31 L1557.22 1066.62 L1557.72 1068.43 L1558.22 1068.82 L1558.72 1071.45 L1559.22 1071.95 L1559.72 1068.20 L1560.22 1069.32 L1560.72 1065.02 L1561.22 1066.39 L1561.72 1065.26 L1562.22 1068.60 L1562.72 1066.77 L1563.22 1066.12 L1563.72 1068.17 L1564.22 1063.07 L1564.72 1067.98 L1565.22 1069.50 L1565.72 1071.66 L1566.22 1064.99 L1566.72 1067.04 L1567.22 1062.54 L1567.72 1071.91 L1568.22 1067.66 L1568.72 1068.84 L1569.22 1063.97 L1569.72 1067.49 L1570.22 1066.48 L1570.72 1064.79 L1571.22 1064.88 L1571.72 1065.50 L1572.22 1065.71 L1572.72 1063.23 L1573.22 1071.81 L1573.72 1068.03 L1574.22 1068.42 L1574.72 1068.37 L1575.22 1067.33 L1575.72 1067.73 L1576.22 1069.45 L1576.72 1067.14 L1577.22 1071.45 L1577.72 1067.28 L1578.22 1071.12 L1578.72 1065.33 L1579.22 1068.69 L1579.72 1069.82 L1580.22 1071.58 L1580.72 1071.66 L1581.22 1065.17 L1581.72 1066.08 L1582.22 1072.28 L1582.72 1066.85 L1583.22 1063.66 L1583.72 1071.02 L1584.22 1069.59 L1584.72 1064.54 L1585.22 1066.25 L1585.72 1071.50 L1586.22 1066.65 L1586.72 1066.35 L1587.22 1066.75 L1587.72 1071.57 L1588.22 1063.23 L1588.72 1068.81 L1589.22 1068.03 L1589.72 1068.99 L1590.22 1069.72 L1590.72 1067.76 L1591.22 1069.30 L1591.72 1068.91 L1592.22 1071.66 L1592.72 1061.35 L1593.22 1067.35 L1593.72 1068.04 L1594.22 1064.05 L1594.72 1071.75 L1595.22 1069.38 L1595.72 1063.18 L1596.22 1067.21 L1596.72 1069.97 L1597.22 1068.32 L1597.72 1065.96 L1598.22 1069.77 L1598.72 1068.97 L1599.22 1065.51 L1599.72 1067.48 L1600.50 1069.00 L1601.00 1065.63 L1601.50 1070.19 L1602.00 1070.74 L1602.50 1062.95 L1603.00 1064.62 L1603.50 1068.61 L1604.00 1067.32 L1605.80 1083.60 L1607.50 1063.50 L1608.20 1068.50 L1609.20 1044.80 L1611.00 1074.50 L1612.50 1061.50 L1614.00 1079.00 L1615.20 1059.00 L1617.00 1071.50 L1619.00 1061.50 L1620.30 1092.50 L1621.50 1076.50 L1622.60 1095.80 L1625.00 1059.50 L1626.00 1064.50 L1626.70 1051.60 L1628.50 1066.50 L1630.10 1052.30 L1632.00 1068.50 L1633.50 1059.50 L1634.10 1071.50 L1636.50 1061.50 L1638.80 1075.50 L1640.50 1059.50 L1641.50 1064.50 L1642.50 1051.30 L1645.50 1081.50 L1647.00 1063.50 L1648.90 1087.00 L1651.00 1060.30 L1652.60 1094.40 L1654.50 1063.50 L1656.30 1084.50 L1657.70 1029.30 L1660.00 1070.50 L1661.50 1057.50 L1662.80 1105.90 L1664.40 1044.20 L1666.50 1090.50 L1668.50 1088.40 L1670.50 1031.40 L1672.50 1074.50 L1674.00 1061.70 L1675.20 1082.50 L1677.00 1061.50 L1677.80 1078.50 L1679.00 1005.10 L1682.20 1118.70 L1684.00 1048.50 L1685.70 1091.00 L1686.70 1017.90 L1689.00 1050.50 L1691.10 1001.70 L1692.00 1098.50 L1693.50 1051.50 L1694.20 1058.50 L1695.40 1046.90 L1697.80 1103.80 L1699.50 1054.30 L1701.50 1094.50 L1703.00 1047.50 L1704.20 1105.20 L1706.90 980.10 L1708.20 1135.50 L1710.90 1043.50 L1712.50 1088.50 L1714.00 1042.50 L1717.00 1143.60 L1718.50 1001.50 L1719.60 1054.50 L1721.30 993.50 L1722.30 1056.50 L1724.30 918.70 L1725.80 1058.50 L1727.60 976.20 L1728.50 1040.00" stroke="#00bfff" stroke-width="3.0" stroke-linejoin="round" stroke-linecap="round" fill="none"/>
<path d="M1605.50 1068.99 L1606.00 1070.31 L1606.50 1066.46 L1607.00 1065.45 L1607.50 1062.07 L1608.00 1071.29 L1608.50 1068.30 L1609.00 1068.90 L1609.50 1065.75 L1610.00 1072.19 L1610.50 1071.30 L1611.00 1067.85 L1611.50 1066.43 L1612.00 1067.07 L1612.50 1065.59 L1613.00 1068.34 L1613.50 1066.17 L1614.00 1070.24 L1614.50 1067.02 L1615.00 1067.03 L1615.50 1073.58 L1616.00 1065.72 L1616.50 1062.74 L1617.00 1069.55 L1617.50 1060.85 L1618.00 1069.20 L1618.50 1071.79 L1619.00 1068.50 L1619.50 1068.28 L1620.00 1060.69 L1620.50 1070.31 L1621.00 1069.73 L1621.50 1063.84 L1622.00 1075.50 L1622.50 1063.58 L1623.00 1061.80 L1623.50 1061.25 L1624.00 1068.35 L1624.50 1069.57 L1625.00 1069.99 L1625.50 1066.91 L1626.00 1065.00 L1626.50 1071.65 L1627.00 1064.61 L1627.50 1063.31 L1628.00 1074.01 L1628.50 1068.99 L1629.00 1070.22 L1629.50 1070.88 L1630.00 1065.83 L1630.50 1065.98 L1631.00 1071.00 L1631.50 1065.59 L1632.00 1069.71 L1632.50 1067.86 L1633.00 1062.99 L1633.50 1072.54 L1634.00 1062.49 L1634.50 1069.30 L1635.00 1068.55 L1635.50 1074.02 L1636.00 1063.11 L1636.50 1065.74 L1637.00 1067.78 L1637.50 1069.10 L1638.00 1072.35 L1638.50 1069.73 L1639.00 1068.37 L1639.50 1073.20 L1640.00 1078.41 L1640.50 1061.63 L1641.00 1068.22 L1641.50 1072.01 L1642.00 1068.68 L1642.50 1075.45 L1643.00 1066.56 L1643.50 1063.09 L1644.00 1072.71 L1644.50 1053.95 L1645.00 1065.78 L1645.50 1080.62 L1646.00 1068.39 L1646.50 1070.15 L1647.00 1063.17 L1647.50 1068.13 L1648.00 1067.48 L1648.50 1078.38 L1649.00 1062.71 L1649.50 1052.99 L1650.00 1070.51 L1650.50 1076.93 L1651.00 1064.37 L1651.50 1057.90 L1652.00 1062.12 L1652.50 1070.75 L1653.00 1064.99 L1653.50 1068.50 L1654.00 1054.40 L1654.50 1065.17 L1655.00 1072.95 L1655.50 1066.66 L1656.00 1062.06 L1656.50 1074.65 L1657.00 1074.29 L1657.50 1065.38 L1658.00 1063.64 L1658.50 1076.24 L1659.00 1064.79 L1659.50 1067.21 L1660.00 1079.74 L1660.50 1069.45 L1661.00 1065.05 L1661.50 1055.38 L1662.00 1068.48 L1662.50 1067.68 L1663.00 1064.10 L1663.50 1074.45 L1664.00 1059.55 L1664.50 1057.51 L1665.00 1062.86 L1665.50 1067.88 L1666.00 1057.65 L1666.50 1059.82 L1667.00 1062.08 L1667.50 1067.61 L1668.00 1062.77 L1668.50 1074.75 L1669.00 1051.73 L1669.50 1070.58 L1670.00 1063.25 L1670.50 1071.00 L1671.00 1082.23 L1671.50 1067.03 L1672.00 1069.03 L1672.50 1073.87 L1673.00 1057.41 L1673.50 1072.61 L1674.00 1073.84 L1674.50 1066.47 L1675.00 1072.65 L1675.50 1068.54 L1676.00 1061.46 L1676.50 1057.00 L1677.00 1075.42 L1677.50 1081.96 L1678.00 1061.09 L1678.50 1070.54 L1679.00 1057.46 L1679.50 1063.59 L1680.00 1063.35 L1680.50 1057.88 L1681.00 1066.88 L1681.50 1076.02 L1682.00 1072.35 L1682.50 1063.03 L1683.00 1079.97 L1683.50 1069.46 L1684.00 1083.52 L1684.50 1055.88 L1685.00 1094.68 L1685.50 1065.95 L1686.00 1056.77 L1686.50 1057.76 L1687.00 1076.18 L1687.50 1075.98 L1688.00 1075.17 L1688.50 1073.30 L1689.00 1056.85 L1689.50 1066.18 L1690.00 1045.29 L1690.50 1059.08 L1691.00 1074.11 L1691.50 1049.11 L1692.00 1091.10 L1692.50 1080.22 L1693.00 1056.12 L1693.50 1074.95 L1694.00 1073.29 L1694.50 1066.22 L1695.00 1073.73 L1695.50 1064.88 L1696.00 1067.46 L1696.50 1073.46 L1697.00 1072.80 L1697.50 1071.36 L1698.00 1071.61 L1698.50 1078.40 L1699.00 1076.57 L1699.50 1055.02 L1700.00 1059.70 L1700.50 1084.36 L1701.00 1085.62 L1701.50 1074.42 L1702.00 1065.05 L1702.50 1077.57 L1703.00 1076.05 L1703.50 1050.28 L1704.00 1069.02 L1704.50 1051.78 L1705.00 1062.80 L1705.50 1068.63 L1706.00 1088.88 L1706.50 1042.69 L1707.00 1063.92 L1707.50 1076.61 L1708.00 1076.48 L1708.50 1078.81 L1709.00 1055.83 L1709.50 1066.62 L1710.00 1062.39 L1710.50 1084.97 L1711.00 1066.48 L1711.50 1068.48 L1712.00 1070.74 L1712.50 1051.08 L1713.00 1075.08 L1713.50 1053.55 L1714.00 1070.70 L1714.50 1058.47 L1715.00 1084.51 L1715.50 1068.77 L1716.00 1094.82 L1716.50 1037.30 L1717.00 1087.39 L1717.50 1080.33 L1718.00 1072.39 L1718.50 1099.68 L1719.00 1047.78 L1719.50 1071.32 L1720.00 1086.38 L1720.50 1077.14 L1721.00 1062.67 L1721.50 1077.86 L1722.00 1062.05 L1722.50 1063.12 L1723.00 1058.22 L1723.50 1084.33 L1724.00 1073.04 L1724.50 1107.16 L1725.00 1081.43 L1725.50 1045.00 L1726.00 1080.92 L1726.50 1050.95" stroke="#00bfff" stroke-width="3.0" stroke-linejoin="round" stroke-linecap="round" fill="none"/>
<path d="M1114.60 1068.25 L1118.88 1068.25 L1123.16 1068.25 L1127.43 1068.25 L1131.71 1068.25 L1135.99 1068.25 L1140.27 1068.25 L1144.55 1068.25 L1148.82 1068.25 L1153.10 1068.25 L1157.38 1068.25 L1161.66 1068.25 L1165.93 1068.25 L1170.21 1068.25 L1174.49 1068.25 L1178.77 1068.25 L1183.05 1068.25 L1187.32 1068.25 L1191.60 1068.25 L1195.88 1068.25 L1200.16 1068.25 L1204.44 1068.25 L1208.71 1068.25 L1212.99 1068.25 L1217.27 1068.25 L1221.55 1068.25 L1225.83 1068.25 L1230.10 1068.25 L1234.38 1068.25 L1238.66 1068.25 L1242.94 1068.25 L1247.21 1068.25 L1251.49 1068.25 L1255.77 1068.25 L1260.05 1068.25 L1264.33 1068.25 L1268.60 1068.25 L1272.88 1068.25 L1277.16 1068.25 L1281.44 1068.25 L1285.72 1068.25 L1289.99 1068.25 L1294.27 1068.25 L1298.55 1068.25 L1302.83 1068.25 L1307.11 1068.25 L1311.38 1068.25 L1315.66 1068.25 L1319.94 1068.25 L1324.22 1068.25 L1328.49 1068.25 L1332.77 1068.25 L1337.05 1068.25 L1341.33 1068.25 L1345.61 1068.25 L1349.88 1068.25 L1354.16 1068.25 L1358.44 1068.25 L1362.72 1068.25 L1367.00 1068.25 L1371.27 1068.25 L1375.55 1068.25 L1379.83 1068.25 L1384.11 1068.25 L1388.38 1068.25 L1392.66 1068.25 L1396.94 1068.25 L1401.22 1068.25 L1405.50 1068.25 L1409.77 1068.25 L1414.05 1068.25 L1418.33 1068.25 L1422.61 1068.25 L1426.89 1068.25 L1431.16 1068.25 L1435.44 1068.25 L1439.72 1068.25 L1444.00 1068.25 L1448.28 1068.25 L1452.55 1068.25 L1456.83 1068.25 L1461.11 1068.25 L1465.39 1068.25 L1469.66 1068.25 L1473.94 1068.25 L1478.22 1068.25 L1482.50 1068.25 L1486.78 1068.25 L1491.05 1068.25 L1495.33 1068.25 L1499.61 1068.25 L1503.89 1068.25 L1508.17 1068.25 L1512.44 1068.25 L1516.72 1068.25 L1521.00 1068.25 L1525.28 1068.25 L1529.56 1068.25 L1533.83 1068.25 L1538.11 1068.25 L1542.39 1068.25 L1546.67 1068.25 L1550.94 1068.25 L1555.22 1068.25 L1559.50 1068.25 L1563.78 1068.25 L1568.06 1068.25 L1572.33 1068.25 L1576.61 1068.25 L1580.89 1068.25 L1585.17 1068.25 L1589.45 1068.25 L1593.72 1068.25 L1598.00 1068.25 L1602.28 1068.25 L1606.56 1068.25 L1610.84 1068.25 L1615.11 1068.25 L1619.39 1068.25 L1623.67 1068.25 L1627.95 1068.25 L1632.22 1068.25 L1636.50 1068.25 L1640.78 1068.25 L1645.06 1068.25 L1649.34 1068.25 L1653.61 1068.25 L1657.89 1068.25 L1662.17 1068.25 L1666.45 1068.25 L1670.73 1068.25 L1675.00 1068.25 L1679.28 1068.25 L1683.56 1068.25 L1687.84 1068.25 L1692.12 1068.25 L1696.39 1068.25 L1700.67 1068.25 L1704.95 1068.25 L1709.23 1068.25 L1713.50 1068.25 L1717.78 1068.25 L1722.06 1068.25 L1726.34 1068.25 L1730.62 1068.25 L1734.89 1068.25 L1739.17 1068.25 L1743.45 1068.25 L1747.73 1068.25 L1752.01 1068.25 L1756.28 1068.25 L1760.56 1068.25 L1764.84 1068.25 L1769.12 1068.25 L1773.39 1068.25 L1777.67 1068.25 L1781.95 1068.25 L1786.23 1068.25 L1790.51 1068.25 L1794.78 1068.25 L1799.06 1068.25 L1803.34 1068.25 L1807.62 1068.25 L1811.90 1068.25 L1816.17 1068.25 L1820.45 1068.25 L1824.73 1068.25 L1829.01 1068.25 L1833.29 1068.25 L1837.56 1068.25 L1841.84 1068.25 L1846.12 1068.25 L1850.40 1068.25 L1854.67 1068.25 L1858.95 1068.25 L1863.23 1068.25 L1867.51 1068.25 L1871.79 1068.25 L1876.06 1068.25 L1880.34 1068.25 L1884.62 1068.25 L1888.90 1068.25 L1893.18 1068.25 L1897.45 1068.25 L1901.73 1068.25 L1906.01 1068.25 L1910.29 1068.25 L1914.57 1068.25 L1918.84 1068.25 L1923.12 1068.25 L1927.40 1068.25 L1931.68 1068.25 L1935.95 1068.25 L1940.23 1068.25 L1944.51 1068.25 L1948.79 1068.25 L1953.07 1068.25 L1957.34 1068.25 L1961.62 1068.25 L1965.90 1068.25" stroke="#ff0000" stroke-width="2.78" stroke-dasharray="10.28 4.44" fill="none"/>
</g>
<path d="M1107.00 653.45H1114.60M1107.00 757.15H1114.60M1107.00 860.85H1114.60M1107.00 964.55H1114.60M1107.00 1068.25H1114.60M1107.00 1171.95H1114.60M1114.60 1171.95V1179.55M1398.37 1171.95V1179.55M1682.13 1171.95V1179.55M1965.90 1171.95V1179.55" stroke="#000" stroke-width="1.7" fill="none"/>
<path d="M1200.02 1171.95V1176.25M1249.99 1171.95V1176.25M1285.44 1171.95V1176.25M1312.94 1171.95V1176.25M1335.41 1171.95V1176.25M1354.41 1171.95V1176.25M1370.87 1171.95V1176.25M1385.38 1171.95V1176.25M1483.79 1171.95V1176.25M1533.76 1171.95V1176.25M1569.21 1171.95V1176.25M1596.71 1171.95V1176.25M1619.18 1171.95V1176.25M1638.18 1171.95V1176.25M1654.63 1171.95V1176.25M1669.15 1171.95V1176.25M1767.56 1171.95V1176.25M1817.52 1171.95V1176.25M1852.98 1171.95V1176.25M1880.48 1171.95V1176.25M1902.95 1171.95V1176.25M1921.94 1171.95V1176.25M1938.40 1171.95V1176.25M1952.92 1171.95V1176.25" stroke="#000" stroke-width="1.3" fill="none"/>
<rect x="1114.60" y="653.45" width="851.30" height="518.50" fill="none" stroke="#000" stroke-width="1.7"/>
<text x="1100.00" y="666.25" text-anchor="end" class="tk">2.0</text>
<text x="1100.00" y="769.95" text-anchor="end" class="tk">1.5</text>
<text x="1100.00" y="873.65" text-anchor="end" class="tk">1.0</text>
<text x="1100.00" y="977.35" text-anchor="end" class="tk">0.5</text>
<text x="1100.00" y="1081.05" text-anchor="end" class="tk">0.0</text>
<text x="1100.00" y="1184.75" text-anchor="end" class="tk">−0.5</text>
<text x="1074.80" y="1211.25" class="tk">10<tspan dy="-12.6" dx="0.4" font-size="23.65">−4</tspan></text>
<text x="1358.57" y="1211.25" class="tk">10<tspan dy="-12.6" dx="0.4" font-size="23.65">−3</tspan></text>
<text x="1642.33" y="1211.25" class="tk">10<tspan dy="-12.6" dx="0.4" font-size="23.65">−2</tspan></text>
<text x="1926.10" y="1211.25" class="tk">10<tspan dy="-12.6" dx="0.4" font-size="23.65">−1</tspan></text>
<text x="1114.40" y="647.05" class="tk">1e−10</text>
<text x="1489.80" y="1254.15" class="di" font-size="31">f</text>
<text x="1513.00" y="1254.15" class="tk">[Hz]</text>
<rect x="1131.50" y="670.45" width="409.60" height="111.40" rx="6.8" ry="6.8" fill="#fff" stroke="#ccc" stroke-width="1.7"/>
<path d="M1144.80 697.40h67.5" stroke="#00bfff" stroke-width="3.0" stroke-linecap="square" fill="none"/>
<path d="M1144.60 748.40h67.8" stroke="#ff0000" stroke-width="2.78" stroke-dasharray="10.28 4.44" fill="none"/>
<text x="1239.30" y="708.90" class="tk">reconstructed</text>
<text x="1487.20" y="708.90" class="om">Ω</text>
<text x="1513.50" y="697.40" class="mi" font-size="24.3">L</text>
<text x="1239.30" y="760.00" class="tk">injected</text>
<text x="1384.90" y="760.00" class="om">Ω</text>
<text x="1411.20" y="748.50" class="mi" font-size="24.3">L</text>
</g>
</svg></body></html>
